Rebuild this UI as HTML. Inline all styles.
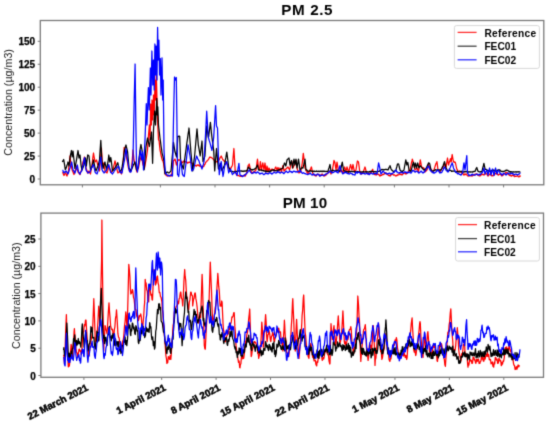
<!DOCTYPE html>
<html><head><meta charset="utf-8"><title>PM 2.5 and PM 10</title>
<style>html,body{margin:0;padding:0;background:#fff;width:550px;height:429px;overflow:hidden}svg{display:block}</style>
</head><body>
<svg width="550" height="429" viewBox="0 0 550 429" font-family="'Liberation Sans', Arial, sans-serif"><defs><filter id="bl" x="0" y="0" width="550" height="429" filterUnits="userSpaceOnUse" color-interpolation-filters="sRGB"><feConvolveMatrix order="3" kernelMatrix="0.0192 0.1001 0.0192 0.1001 0.5228 0.1001 0.0192 0.1001 0.0192" divisor="1" edgeMode="duplicate"/></filter></defs><rect width="550" height="429" fill="#fff"/><g filter="url(#bl)"><rect width="550" height="429" fill="#fff"/><text x="307.20" y="15.2" text-anchor="middle" font-size="15.2" font-weight="bold" letter-spacing="0.6">PM 2.5</text>
<line x1="37.70" y1="179.00" x2="40.30" y2="179.00" stroke="#7a7a7a" stroke-width="1"/>
<text x="35.10" y="183.10" text-anchor="end" font-size="10.0" font-weight="bold" stroke="#000" stroke-width="0.25">0</text>
<line x1="37.70" y1="156.05" x2="40.30" y2="156.05" stroke="#7a7a7a" stroke-width="1"/>
<text x="35.10" y="160.15" text-anchor="end" font-size="10.0" font-weight="bold" stroke="#000" stroke-width="0.25">25</text>
<line x1="37.70" y1="133.10" x2="40.30" y2="133.10" stroke="#7a7a7a" stroke-width="1"/>
<text x="35.10" y="137.20" text-anchor="end" font-size="10.0" font-weight="bold" stroke="#000" stroke-width="0.25">50</text>
<line x1="37.70" y1="110.15" x2="40.30" y2="110.15" stroke="#7a7a7a" stroke-width="1"/>
<text x="35.10" y="114.25" text-anchor="end" font-size="10.0" font-weight="bold" stroke="#000" stroke-width="0.25">75</text>
<line x1="37.70" y1="87.20" x2="40.30" y2="87.20" stroke="#7a7a7a" stroke-width="1"/>
<text x="35.10" y="91.30" text-anchor="end" font-size="10.0" font-weight="bold" stroke="#000" stroke-width="0.25">100</text>
<line x1="37.70" y1="64.25" x2="40.30" y2="64.25" stroke="#7a7a7a" stroke-width="1"/>
<text x="35.10" y="68.35" text-anchor="end" font-size="10.0" font-weight="bold" stroke="#000" stroke-width="0.25">125</text>
<line x1="37.70" y1="41.30" x2="40.30" y2="41.30" stroke="#7a7a7a" stroke-width="1"/>
<text x="35.10" y="45.40" text-anchor="end" font-size="10.0" font-weight="bold" stroke="#000" stroke-width="0.25">150</text>
<line x1="82.40" y1="184.80" x2="82.40" y2="187.40" stroke="#7a7a7a" stroke-width="1"/>
<line x1="160.40" y1="184.80" x2="160.40" y2="187.40" stroke="#7a7a7a" stroke-width="1"/>
<line x1="215.00" y1="184.80" x2="215.00" y2="187.40" stroke="#7a7a7a" stroke-width="1"/>
<line x1="269.60" y1="184.80" x2="269.60" y2="187.40" stroke="#7a7a7a" stroke-width="1"/>
<line x1="324.20" y1="184.80" x2="324.20" y2="187.40" stroke="#7a7a7a" stroke-width="1"/>
<line x1="394.40" y1="184.80" x2="394.40" y2="187.40" stroke="#7a7a7a" stroke-width="1"/>
<line x1="449.00" y1="184.80" x2="449.00" y2="187.40" stroke="#7a7a7a" stroke-width="1"/>
<line x1="503.60" y1="184.80" x2="503.60" y2="187.40" stroke="#7a7a7a" stroke-width="1"/>
<text x="7.7" y="102.4" transform="rotate(-90 7.7 102.4)" text-anchor="middle" dominant-baseline="central" font-size="10.7" fill="#222">Concentration (µg/m3)</text>
<polyline points="62.5,172.0 62.8,172.3 63.4,174.3 64.0,175.5 64.6,174.0 65.2,173.6 65.5,173.0 65.8,173.2 66.4,175.1 67.0,176.0 67.6,173.4 68.2,172.1 68.5,171.0 68.8,167.6 69.4,162.2 70.0,156.0 70.6,161.0 71.0,165.0 71.8,168.5 72.5,171.0 73.0,171.8 73.6,173.8 74.0,174.5 74.8,171.5 75.5,170.0 76.0,168.3 76.5,166.0 77.2,168.5 78.0,172.0 78.4,172.7 79.0,172.9 79.6,174.1 80.0,174.5 80.8,171.7 81.5,170.0 82.0,167.6 82.6,163.8 83.0,162.0 83.8,159.6 84.5,157.0 85.0,160.1 85.6,165.3 86.0,168.0 86.8,170.2 87.5,173.0 88.0,172.4 88.6,171.4 89.0,171.0 89.8,173.0 90.5,174.0 91.0,170.7 91.6,167.5 92.0,165.0 92.8,158.0 93.5,153.0 94.0,156.3 94.6,159.4 95.0,162.0 95.8,161.1 96.5,160.0 97.0,161.8 97.6,164.5 98.0,166.0 98.8,168.5 99.5,171.0 100.0,165.2 100.6,157.4 101.4,148.0 101.8,154.4 102.5,165.0 103.0,164.0 103.7,163.0 104.2,166.2 105.0,171.0 105.4,171.3 106.0,172.3 106.6,172.1 107.0,173.0 107.8,170.4 108.4,167.9 109.0,166.0 109.6,168.1 110.2,169.7 111.0,172.5 111.4,172.2 112.0,171.1 112.6,170.6 113.0,170.0 113.8,166.1 114.4,163.7 115.0,160.8 115.6,163.2 116.2,166.8 116.5,168.0 116.8,168.7 117.4,171.2 118.0,173.0 118.6,172.0 119.2,172.1 120.0,171.0 120.4,171.5 121.0,173.1 121.5,174.0 122.2,169.4 123.0,165.0 123.4,159.3 124.2,147.3 124.6,148.3 125.2,151.0 125.5,152.0 125.8,153.1 126.4,156.9 127.0,160.0 127.6,162.8 128.2,166.6 128.5,168.0 128.8,168.5 129.4,170.7 130.0,172.0 130.6,170.7 131.2,170.5 131.5,170.0 131.8,165.6 132.4,158.2 133.0,150.0 133.6,155.9 134.0,160.0 134.8,163.3 135.5,166.0 136.0,167.6 136.6,170.7 137.0,172.0 137.8,169.5 138.5,168.0 139.0,165.5 139.6,161.8 140.0,160.0 140.8,157.5 141.5,155.0 142.0,157.8 142.6,162.7 143.0,165.0 143.8,166.2 144.5,168.0 145.0,165.4 145.6,161.8 146.0,160.0 146.8,155.0 147.5,150.0 148.0,142.2 148.5,135.0 149.4,125.0 150.0,140.0 150.4,119.5 150.7,104.0 151.0,112.8 151.4,125.0 152.0,100.0 152.8,120.0 153.5,95.0 154.2,115.0 154.6,97.8 155.0,80.0 155.7,100.0 156.3,73.0 157.0,100.0 157.8,125.6 158.2,133.4 158.5,140.0 159.0,140.0 159.4,144.1 160.0,150.0 160.6,152.6 161.0,155.0 162.0,159.0 162.4,160.4 163.0,161.1 163.5,163.0 164.2,168.3 165.0,173.8 165.4,173.9 166.0,175.2 166.6,175.0 167.0,176.0 167.8,176.1 168.4,175.2 169.0,175.5 169.6,175.9 170.2,175.4 170.8,176.2 171.4,176.0 172.0,172.3 172.5,170.0 173.2,164.0 173.5,161.0 173.8,160.4 174.4,159.9 175.0,159.0 175.6,161.2 176.2,164.0 176.5,165.0 176.8,163.6 177.4,162.1 178.0,160.0 178.6,159.7 179.2,160.2 180.0,159.7 180.4,160.2 181.0,161.7 181.6,161.8 182.0,163.0 182.8,162.4 183.4,161.0 184.0,161.0 184.6,161.6 185.2,161.5 186.0,162.0 186.4,162.5 187.0,162.2 187.6,163.1 188.0,163.0 188.8,162.1 189.4,162.4 190.0,162.0 190.6,162.3 191.2,162.9 192.0,163.4 192.4,163.2 193.0,164.5 193.6,164.5 194.0,165.0 194.8,165.5 195.4,165.4 196.0,166.0 196.6,166.0 197.2,164.9 198.0,165.0 198.4,165.5 199.0,164.9 199.6,166.1 200.0,166.0 200.8,166.0 201.4,166.9 202.0,167.2 202.6,166.7 203.2,166.8 204.0,166.0 204.4,164.8 205.0,164.2 205.6,162.6 206.0,162.0 206.8,161.4 207.4,160.3 208.0,160.0 208.6,159.3 209.2,157.9 210.0,157.0 210.4,157.3 211.0,157.3 211.6,157.9 212.0,158.0 212.8,158.6 213.4,159.5 214.0,160.0 214.6,160.3 215.2,161.3 215.6,161.6 216.4,161.3 217.0,162.0 217.6,161.6 218.2,160.5 219.0,160.0 219.4,159.5 220.0,157.9 220.6,157.2 221.2,156.0 221.8,157.2 222.4,158.8 223.0,160.0 223.6,160.2 224.2,161.1 225.0,161.6 225.4,161.8 226.0,163.1 226.6,163.4 227.0,164.0 227.8,166.3 228.5,168.0 229.0,167.9 229.6,168.7 230.2,168.4 230.5,169.0 230.8,168.5 231.4,167.1 232.0,166.1 232.5,165.0 233.2,156.2 233.9,148.5 234.4,157.3 235.2,171.0 235.6,171.9 236.2,174.1 236.5,174.6 236.8,174.4 237.4,175.5 238.0,175.5 238.6,175.4 239.2,176.1 240.0,176.0 240.4,176.0 241.0,176.4 241.6,175.9 242.0,176.5 242.8,176.3 243.4,175.3 244.0,175.5 244.6,175.9 245.4,176.0 245.8,174.5 246.4,173.6 247.0,172.0 247.6,168.2 248.2,165.3 248.8,164.6 249.2,164.0 250.0,167.5 250.5,170.0 251.2,171.7 252.0,173.0 252.4,172.5 253.0,172.8 253.6,171.9 254.0,172.0 254.8,171.5 255.4,170.0 256.0,170.0 256.6,165.9 257.2,161.1 257.5,159.2 257.8,162.1 258.5,168.0 259.0,168.4 259.5,170.0 260.4,161.6 260.8,165.0 261.5,170.0 262.0,166.9 262.8,162.8 263.2,165.4 264.0,170.0 264.4,167.0 265.0,163.0 265.6,168.7 266.0,172.0 267.0,166.0 267.4,168.2 268.0,172.0 268.6,169.7 269.0,168.0 269.8,169.5 270.5,171.0 271.0,170.4 271.6,169.2 272.0,169.0 272.8,170.0 273.4,170.2 274.0,171.0 274.6,169.9 275.2,167.8 275.8,167.0 276.4,168.6 277.0,170.0 277.6,168.3 278.0,167.5 279.0,171.0 279.4,170.0 280.0,168.0 280.6,169.0 281.2,171.5 281.5,172.0 281.8,170.3 282.4,168.0 282.9,165.7 283.6,168.5 284.0,171.0 284.8,170.6 285.4,169.0 286.0,169.0 286.6,168.6 287.2,167.5 288.0,167.0 288.4,168.0 289.0,168.5 289.5,170.0 290.2,167.6 290.5,166.0 290.8,164.4 291.4,162.5 291.7,161.0 292.0,162.3 292.6,166.1 293.0,168.0 293.8,166.0 294.5,165.0 295.0,163.6 295.6,161.3 296.0,160.4 296.8,165.9 297.5,170.0 298.0,170.8 298.6,172.3 299.0,173.0 299.8,172.2 300.5,172.0 301.0,170.0 301.6,166.6 302.0,165.0 302.8,158.1 303.3,153.3 304.0,158.8 304.3,162.0 304.6,164.9 305.0,168.0 305.8,169.3 306.4,171.2 306.8,172.0 307.6,173.0 308.0,174.0 308.8,172.7 309.5,171.0 310.0,169.8 310.6,169.0 311.2,167.1 311.5,167.0 311.8,168.8 312.4,171.2 312.7,173.0 313.0,173.6 313.6,174.2 314.0,175.0 314.8,175.6 315.4,175.3 316.0,176.0 316.6,175.5 317.2,174.3 318.0,174.0 318.4,174.7 319.0,174.6 319.6,175.9 320.0,176.0 320.8,174.9 321.4,174.9 322.0,174.0 322.6,174.3 323.2,175.3 324.0,176.0 324.4,175.6 325.0,175.8 325.6,174.6 326.0,175.0 326.8,174.3 327.4,173.1 328.0,173.0 328.6,172.5 329.2,171.5 330.0,171.0 330.4,172.4 331.0,174.0 331.6,171.8 332.2,171.0 332.5,170.0 332.8,167.7 333.4,164.4 334.0,160.4 334.6,161.7 335.0,163.0 336.0,170.0 336.4,167.0 337.0,162.2 337.6,165.6 338.2,169.3 338.5,171.0 338.8,170.8 339.4,171.9 340.0,172.0 340.6,170.8 341.2,170.5 341.5,170.0 341.8,170.0 342.4,171.9 343.0,173.0 343.6,170.4 344.2,168.7 344.6,167.0 345.4,169.1 346.0,171.0 346.6,168.9 347.0,166.9 347.8,169.7 348.5,173.0 349.0,171.0 349.6,168.1 350.2,166.1 350.5,164.5 350.8,165.3 351.4,168.0 352.0,170.0 352.6,166.4 353.0,164.5 353.8,168.7 354.5,172.0 355.0,170.9 355.6,170.7 356.0,170.0 356.8,164.5 357.4,161.0 358.0,161.6 358.5,162.0 359.2,167.2 359.5,170.0 359.8,171.0 360.4,172.1 361.0,174.0 361.6,174.0 362.2,172.8 363.0,173.0 363.4,172.1 364.0,169.7 364.6,168.3 365.0,167.0 365.8,169.8 366.5,173.0 367.0,173.5 367.6,173.5 368.0,174.0 368.8,173.8 369.4,173.1 370.0,173.0 370.6,172.9 371.2,171.7 371.5,172.0 371.8,171.4 372.4,169.6 372.7,169.3 373.0,170.5 373.6,172.3 374.0,174.0 374.8,174.7 375.4,174.1 376.0,175.0 376.6,174.9 377.2,173.9 378.0,174.0 378.4,174.6 379.0,174.4 379.6,175.7 380.0,176.0 380.8,175.2 381.4,175.4 382.0,175.0 382.6,174.3 383.2,174.7 384.0,174.0 384.4,173.2 385.0,173.8 385.6,172.8 386.0,173.0 386.8,174.0 387.4,174.0 388.0,175.0 388.6,175.6 389.2,175.2 390.0,176.0 390.4,175.9 391.0,174.5 391.6,174.7 392.0,174.0 392.8,174.0 393.4,175.0 394.0,175.0 394.6,174.8 395.2,175.8 396.0,176.0 396.4,175.3 397.0,175.7 397.6,174.7 398.0,175.0 398.8,174.9 399.4,173.7 400.0,174.0 400.6,174.6 401.2,174.1 402.0,175.0 402.4,174.8 403.0,173.7 403.6,173.7 404.0,173.0 404.8,172.9 405.4,173.9 406.0,174.0 406.6,173.2 407.2,173.1 408.0,172.0 408.4,171.0 409.0,171.1 409.6,170.2 410.0,170.0 410.8,166.3 411.4,163.0 412.0,160.9 412.3,159.2 412.6,159.9 413.2,162.3 413.5,163.0 413.8,164.3 414.4,167.3 415.0,170.0 415.6,169.0 416.2,169.1 417.0,168.0 417.4,168.7 418.0,170.9 418.5,172.0 419.2,167.0 419.8,163.4 420.3,159.8 421.0,163.6 421.5,167.0 422.2,167.4 422.8,167.3 423.4,168.0 423.9,168.0 424.6,170.1 425.0,172.0 425.8,171.3 426.4,170.4 427.0,170.0 427.6,168.3 428.2,165.5 428.6,164.6 429.4,166.7 430.0,168.0 430.6,168.7 431.2,170.7 432.0,172.0 432.4,171.1 433.0,171.2 433.6,170.0 434.0,170.0 434.8,167.4 435.5,165.0 436.0,163.5 436.6,162.5 436.9,161.6 437.2,163.6 438.0,170.0 438.4,170.6 439.0,170.6 439.8,172.0 440.2,171.5 441.0,170.0 441.4,169.2 442.0,168.7 442.6,167.4 443.0,167.0 443.8,165.5 444.5,164.0 445.0,164.8 445.6,167.2 446.0,168.0 446.8,162.5 447.5,158.0 448.0,161.7 448.5,165.0 449.2,162.6 449.8,161.0 450.5,158.6 451.2,162.0 451.6,158.4 452.2,154.5 452.8,158.3 453.5,162.0 454.0,161.7 454.6,162.4 455.2,162.2 455.8,164.5 456.5,168.0 457.0,169.4 457.6,170.6 458.0,172.0 458.8,171.9 459.4,170.8 460.0,171.0 460.6,171.9 461.2,171.6 462.0,173.0 462.4,173.6 463.0,173.5 463.6,174.9 464.0,175.0 464.8,174.0 465.4,174.6 466.0,174.0 466.6,174.1 467.2,175.4 468.0,176.0 468.4,175.6 469.0,176.0 469.6,175.4 470.0,175.5 470.8,175.9 471.4,175.6 472.0,176.0 472.6,175.8 473.2,175.2 474.0,175.0 474.4,175.1 475.0,174.2 475.6,174.3 476.0,174.0 476.8,173.9 477.4,175.0 478.0,175.0 478.6,175.1 479.2,175.9 480.0,176.0 480.4,175.4 481.0,175.1 481.6,174.2 482.0,174.0 482.8,174.7 483.4,174.3 484.0,175.0 484.6,174.7 485.2,173.4 486.0,173.0 486.4,173.9 487.0,174.0 487.6,175.6 488.0,176.0 488.8,175.0 489.4,174.7 490.0,174.0 490.6,174.1 491.2,175.5 492.0,176.0 492.4,175.4 493.0,175.8 493.6,174.7 494.0,175.0 494.8,174.4 495.4,173.4 496.0,173.0 496.6,173.8 497.2,173.6 498.0,175.0 498.4,175.1 499.0,174.4 499.6,174.3 500.0,174.0 500.8,174.5 501.4,175.7 502.0,176.0 502.6,174.9 503.2,175.1 504.0,174.0 504.4,173.6 505.0,173.6 505.6,172.7 506.2,173.1 507.0,172.5 507.4,172.7 508.0,174.1 508.6,174.4 509.0,175.0 509.8,175.6 510.4,175.2 511.0,176.0 511.6,176.1 512.2,175.2 513.0,175.5 513.4,175.8 514.0,175.6 514.6,176.7 515.0,176.5 515.8,176.1 516.4,176.3 517.0,176.0 517.6,175.7 518.2,176.7 519.0,177.0 519.4,176.1 520.0,176.3 520.5,175.5" fill="none" stroke="#ff0000" stroke-width="1.25" stroke-linejoin="round"/>
<polyline points="62.4,162.0 62.7,161.2 63.3,160.5 63.7,159.5 64.5,164.3 65.3,169.7 65.7,169.0 66.5,167.0 66.9,165.5 67.5,163.9 68.0,162.0 68.7,164.5 69.0,166.0 69.3,164.0 69.9,159.1 70.5,155.0 71.1,152.2 71.4,150.5 71.7,152.8 72.2,157.0 73.0,151.0 73.5,155.6 74.0,160.0 74.9,168.5 75.3,166.1 75.9,163.3 76.5,160.0 77.1,155.9 77.7,152.5 78.0,150.5 78.3,152.4 79.0,158.0 79.5,156.5 80.0,155.0 80.7,161.7 81.0,165.0 81.3,166.6 82.0,170.0 82.5,168.7 83.1,167.4 83.7,165.7 84.0,165.0 84.3,163.7 84.9,160.6 85.5,158.0 86.1,163.4 86.4,166.0 86.7,163.3 87.3,158.4 87.7,155.0 88.5,155.3 89.0,156.0 89.7,162.6 90.5,170.0 90.9,169.1 91.5,168.1 92.0,167.0 92.7,163.4 93.5,160.0 93.9,162.3 94.5,165.0 95.0,168.0 95.7,170.3 96.0,171.0 96.3,170.0 96.9,168.9 97.5,167.0 98.0,166.0 98.7,163.3 99.5,160.0 99.9,153.7 100.5,145.1 100.8,140.3 101.1,146.0 101.8,160.0 102.3,163.7 103.0,168.5 103.5,166.5 104.1,165.1 104.7,162.7 105.0,162.0 105.3,163.7 105.9,166.7 106.5,170.0 107.1,166.9 107.7,163.2 108.0,162.0 108.3,159.5 108.8,155.0 109.5,159.6 109.8,162.0 110.1,160.7 110.8,157.5 111.3,161.2 111.9,166.3 112.5,171.0 113.1,169.9 113.7,169.8 114.3,168.8 115.0,168.0 115.5,167.2 116.1,165.8 116.7,165.0 117.3,163.5 117.8,162.7 118.5,166.2 119.1,168.7 119.5,171.0 120.3,170.8 120.9,170.2 121.5,170.0 122.1,166.9 122.7,163.3 123.0,162.0 123.3,159.7 123.9,154.5 124.5,150.0 125.1,148.1 125.7,145.8 126.0,145.0 126.3,146.4 126.9,148.8 127.6,152.0 128.1,157.8 128.7,164.3 129.0,168.0 129.3,168.6 129.9,169.1 130.5,170.3 131.0,171.0 131.7,169.0 132.3,167.8 133.0,166.0 133.5,164.6 134.1,163.9 134.7,162.3 135.0,162.0 135.3,163.7 135.9,166.5 136.5,170.0 137.1,169.3 137.7,168.2 138.0,168.0 138.3,165.5 138.9,159.6 139.5,154.5 140.0,150.0 140.7,145.8 141.0,144.5 141.3,146.4 141.9,149.5 142.5,153.0 143.1,159.0 143.7,164.4 144.2,169.6 144.9,160.7 145.5,152.6 146.0,146.5 146.7,142.6 147.5,138.0 147.9,139.6 148.5,142.6 149.1,144.8 149.4,146.5 149.7,144.5 150.3,140.1 150.9,136.4 151.5,132.0 152.1,148.9 152.6,163.3 153.5,130.0 153.9,123.8 154.7,111.0 155.1,117.7 155.5,125.0 156.3,108.7 156.8,98.4 157.3,115.0 157.8,106.8 158.1,114.3 158.5,125.0 159.3,132.1 160.0,138.0 160.5,141.5 161.1,146.3 161.7,150.2 162.0,152.8 162.3,154.1 162.9,156.1 163.5,159.1 164.0,161.0 164.7,169.6 165.0,173.8 165.3,173.7 165.9,172.6 166.5,172.6 167.0,172.0 167.7,172.2 168.3,172.7 169.0,173.0 169.5,172.3 170.1,172.0 170.7,171.1 171.0,171.0 171.3,167.7 171.9,160.5 172.5,154.0 173.1,146.7 173.5,142.4 174.3,147.6 175.0,152.0 175.5,153.3 176.1,155.6 176.6,157.0 177.3,144.7 177.8,136.4 178.5,136.6 179.1,136.1 179.7,136.4 180.3,153.2 180.6,161.6 180.9,162.1 181.5,164.1 182.1,165.3 182.7,167.3 183.4,169.0 183.9,165.1 184.5,160.9 185.1,156.1 185.7,151.9 186.2,148.0 186.9,142.7 187.5,138.8 188.1,134.2 188.7,130.4 189.0,128.0 189.3,131.7 189.9,139.5 190.5,146.6 190.9,152.0 191.7,160.5 192.3,166.4 192.7,170.9 193.5,164.8 194.1,159.6 194.6,156.0 195.3,148.2 195.9,141.1 196.5,134.6 197.0,128.9 197.7,137.1 198.3,144.8 198.9,148.4 199.5,151.6 200.2,156.0 200.7,151.9 201.3,146.5 202.0,141.0 202.5,151.4 203.0,161.6 203.7,159.4 204.3,157.9 204.9,156.0 205.5,145.9 206.1,136.1 206.7,126.0 207.3,129.4 207.9,133.3 208.6,137.3 209.1,132.9 209.7,128.3 210.4,122.4 210.9,127.2 211.5,133.5 211.9,137.3 212.7,142.8 213.3,147.6 213.7,150.4 214.7,170.9 215.1,165.6 215.7,158.5 216.5,148.5 216.9,152.7 217.5,159.5 218.1,165.6 218.4,169.0 218.7,168.2 219.3,166.2 219.9,164.7 220.3,163.4 221.1,166.8 221.7,169.7 222.0,170.9 222.3,169.8 222.9,168.8 223.5,167.2 224.1,166.0 224.5,165.0 225.3,160.4 225.9,157.4 226.5,153.7 226.8,152.2 227.1,154.6 227.7,159.1 228.3,164.1 228.7,167.2 229.5,168.8 230.1,170.5 230.5,171.3 231.3,171.3 231.9,171.7 232.5,171.4 233.0,171.9 233.7,171.9 234.3,171.4 234.9,171.7 235.5,171.4 236.0,171.4 236.7,171.4 237.3,171.0 237.9,171.2 238.5,170.9 239.1,171.2 239.7,170.9 240.3,170.8 240.9,171.2 241.5,170.8 242.1,171.4 242.7,171.1 243.0,171.4 243.3,171.5 243.9,171.0 244.5,171.3 245.1,170.8 245.7,171.2 246.3,170.6 246.8,170.9 247.5,169.6 248.1,167.9 248.6,167.0 249.3,168.4 249.8,169.0 250.5,168.9 251.1,169.7 251.7,169.7 252.0,170.0 252.3,170.1 252.9,169.4 253.5,169.7 254.0,169.5 254.7,168.8 255.3,168.7 256.0,168.0 256.5,166.9 257.1,165.9 257.5,165.0 258.5,170.0 258.9,169.9 259.5,170.1 260.1,169.8 260.7,170.1 261.0,170.0 261.3,169.9 261.9,170.5 262.5,170.2 263.1,170.8 263.7,170.6 264.0,170.9 264.3,171.2 264.9,170.8 265.5,171.3 266.1,171.1 266.7,171.5 267.0,171.4 267.3,171.2 267.9,171.6 268.5,171.3 269.1,171.6 269.7,171.1 270.0,171.4 270.3,171.4 270.9,170.6 271.5,170.9 272.1,170.1 272.7,170.2 273.0,170.0 273.3,169.7 273.9,170.4 274.5,170.3 275.1,170.7 275.7,170.7 276.0,170.9 276.3,170.9 276.9,170.5 277.5,170.5 278.1,169.9 278.7,170.2 279.0,170.0 279.3,169.7 279.9,169.7 280.5,169.1 281.1,169.1 281.7,168.5 282.3,168.4 282.9,168.0 283.5,166.0 284.1,164.3 284.5,163.0 285.3,164.6 285.8,166.0 286.5,162.6 287.0,160.0 287.7,159.1 288.3,158.8 289.0,158.0 289.5,161.3 290.0,165.0 290.7,163.0 291.5,160.5 291.9,163.4 292.5,168.0 293.1,164.6 293.7,160.7 294.0,159.2 294.3,161.0 295.0,165.0 295.5,161.9 296.0,159.2 296.7,165.5 297.0,168.0 297.3,166.0 297.9,162.8 298.5,159.2 299.1,163.3 299.7,167.9 300.0,170.0 300.3,169.4 300.9,169.0 301.5,168.0 302.1,167.7 302.7,168.2 303.0,168.0 303.3,166.4 303.9,164.2 304.5,161.3 305.0,159.2 305.7,167.0 306.0,170.0 306.3,169.7 306.8,169.9 307.5,171.0 308.0,171.4 308.7,171.1 309.3,171.2 310.0,170.9 310.5,170.7 311.1,171.3 311.7,170.9 312.3,171.5 312.7,171.4 313.5,171.1 314.1,171.6 314.7,171.1 315.3,171.5 316.0,171.4 316.5,171.0 317.1,171.5 317.7,171.3 318.3,171.5 318.9,171.1 319.5,171.6 320.0,171.4 320.7,171.1 321.3,171.5 321.9,171.1 322.5,171.6 323.1,171.1 323.7,171.5 324.0,171.4 324.3,171.1 324.9,171.5 325.5,171.3 326.1,171.6 326.7,171.3 327.3,171.4 328.0,171.4 328.5,169.3 329.1,167.7 329.7,165.4 330.0,164.5 330.3,166.7 331.0,171.4 331.5,170.9 332.1,170.8 332.7,170.0 333.0,170.0 333.3,170.4 333.9,170.5 334.5,171.2 335.0,171.4 335.7,170.6 336.3,170.6 337.0,170.0 337.5,170.0 338.1,171.0 338.7,170.9 339.0,171.4 339.3,171.3 339.9,170.2 340.5,170.0 341.1,167.6 341.7,164.6 342.3,162.2 342.9,166.2 343.5,170.0 344.1,170.4 344.7,171.2 345.0,171.4 345.3,171.1 345.9,171.8 346.5,171.4 347.1,171.9 347.7,171.6 348.0,171.9 348.3,171.9 348.9,171.7 349.5,171.8 350.1,171.3 350.7,171.8 351.3,171.3 352.0,171.4 352.5,171.7 353.1,171.4 353.7,171.7 354.3,171.5 354.9,172.0 355.5,171.6 356.0,171.9 356.7,172.0 357.3,171.5 357.9,172.2 358.5,171.6 359.1,172.2 359.7,171.9 360.0,172.0 360.3,172.1 360.9,171.8 361.5,172.1 362.1,171.8 362.7,172.0 363.3,171.6 364.0,171.9 364.5,172.1 365.1,171.7 365.7,172.0 366.3,171.6 366.9,172.2 367.5,171.7 368.0,172.0 368.7,172.0 369.3,171.5 369.9,171.8 370.5,171.3 371.1,171.7 371.7,171.1 372.0,171.4 372.3,171.6 372.9,171.4 373.5,171.8 374.1,171.5 374.7,171.8 375.3,171.5 376.0,171.9 376.5,172.0 377.1,171.4 377.7,171.8 378.3,171.4 379.0,171.4 379.5,171.2 380.1,170.5 380.7,170.3 381.3,169.7 382.0,169.3 382.5,169.6 383.1,169.5 383.7,170.0 384.0,170.0 384.3,169.5 384.9,169.7 385.7,169.3 386.1,169.2 386.7,169.7 387.3,169.5 388.0,170.0 388.5,169.1 389.1,167.3 389.7,166.5 390.0,165.7 390.3,166.3 390.9,168.5 391.5,170.0 392.1,170.2 392.7,171.0 393.3,171.2 394.0,171.9 394.5,171.6 395.1,170.6 395.7,170.4 396.0,170.0 396.3,168.6 396.9,166.5 397.5,164.0 398.1,163.8 398.7,164.0 399.3,167.0 400.0,170.0 400.5,170.4 401.1,171.2 401.7,171.2 402.0,171.9 402.3,171.7 402.9,170.7 403.5,170.7 404.0,170.0 404.7,165.9 405.3,162.7 405.8,159.8 406.5,163.0 406.8,165.0 407.1,164.4 407.8,162.4 408.3,165.3 409.0,170.0 409.5,170.5 410.1,170.7 410.7,171.4 411.0,171.4 411.3,169.9 411.9,167.8 412.3,166.0 413.1,163.2 413.5,162.4 414.5,168.0 414.9,165.6 415.3,163.0 416.1,166.0 416.5,168.0 417.3,164.4 417.6,163.0 417.9,163.7 418.5,166.3 419.0,168.0 419.7,166.7 420.3,165.7 420.9,166.7 421.5,167.1 422.0,168.0 422.7,168.9 423.3,169.1 424.0,170.0 424.5,169.8 425.1,169.1 425.7,169.3 426.0,169.0 426.3,167.9 426.9,166.9 427.5,165.1 428.1,164.2 428.6,162.8 429.3,163.2 429.8,164.0 430.5,167.6 431.0,170.0 431.7,170.2 432.3,171.0 433.0,171.4 433.5,170.9 434.1,170.7 434.7,170.1 435.0,170.0 435.3,170.1 435.9,169.6 436.5,170.2 437.0,170.0 437.7,169.7 438.3,170.0 438.9,169.8 439.5,170.1 439.8,169.9 440.1,169.8 440.7,170.2 441.0,170.0 441.3,169.3 441.9,168.3 442.5,166.8 443.0,166.0 443.7,164.0 444.5,161.6 444.9,163.1 445.5,166.0 446.0,168.0 446.7,169.0 447.3,170.3 448.0,171.4 448.5,170.9 449.1,170.7 449.7,170.0 450.0,170.0 450.3,170.4 450.9,170.4 451.5,171.3 452.0,171.4 452.7,171.0 453.3,171.2 454.0,170.9 454.5,171.0 455.1,171.6 455.7,171.7 456.0,172.0 456.3,172.0 456.9,171.3 457.5,171.8 458.0,171.4 458.7,171.5 459.3,171.9 460.0,171.9 460.5,171.5 461.1,171.8 461.7,171.2 462.0,171.4 462.3,171.7 462.9,171.5 463.5,172.0 464.0,172.0 464.7,171.6 465.3,171.8 466.0,171.4 466.5,171.4 467.1,171.9 467.7,171.6 468.0,172.0 468.3,172.2 468.9,171.7 469.5,172.1 470.1,171.7 470.7,172.2 471.3,171.9 472.0,172.0 472.5,172.0 473.1,171.4 473.7,171.8 474.3,171.3 475.0,171.4 475.5,170.4 476.1,168.6 476.8,167.5 477.3,169.3 478.0,171.4 478.5,171.3 479.1,171.9 479.7,171.8 480.0,172.0 480.3,172.1 480.9,171.6 481.5,171.7 482.0,171.4 482.7,168.1 483.3,166.0 483.9,163.4 484.5,166.2 485.0,169.0 485.7,169.5 486.3,169.4 487.0,170.0 487.5,170.4 488.1,170.3 488.7,171.0 489.3,171.0 490.0,171.4 490.5,171.3 491.1,170.7 491.7,170.8 492.3,170.2 493.0,170.0 493.5,170.3 494.1,170.1 494.7,171.0 495.3,170.7 496.0,171.4 496.5,171.3 497.1,170.4 497.7,170.3 498.0,170.0 498.3,169.8 498.9,170.1 499.5,169.8 499.8,169.9 500.1,170.4 500.7,170.7 501.0,171.4 501.3,171.5 501.9,171.3 502.5,171.6 503.1,171.3 503.7,171.5 504.0,171.4 504.3,171.2 504.9,171.2 505.5,170.3 506.1,170.6 506.7,170.0 507.0,170.0 507.3,170.4 507.9,170.4 508.5,171.1 509.1,171.1 509.7,172.0 510.0,172.0 510.3,171.6 510.9,172.1 511.5,171.7 512.1,172.2 512.7,171.8 513.3,172.1 513.9,171.7 514.5,172.1 515.0,172.0 515.7,171.7 516.3,172.2 516.9,171.7 517.5,172.1 518.1,171.7 518.7,172.1 519.3,171.7 519.9,172.1 520.5,172.0" fill="none" stroke="#000000" stroke-width="1.25" stroke-linejoin="round"/>
<polyline points="62.5,170.0 62.8,170.2 63.4,172.0 64.0,173.0 64.6,171.9 65.2,172.1 66.0,171.0 66.4,171.1 67.0,172.7 67.6,172.8 68.0,174.0 68.8,171.8 69.4,169.5 70.0,168.0 70.6,166.0 71.2,163.4 71.7,162.0 72.4,166.4 73.0,170.0 73.6,170.6 74.2,172.0 75.0,173.0 75.4,171.2 76.0,170.0 76.6,167.5 77.4,165.0 77.8,167.6 78.5,172.0 79.0,172.4 79.6,173.7 80.0,174.0 80.8,171.9 81.4,171.5 82.0,170.0 82.6,166.5 83.2,164.3 83.8,160.6 84.5,157.6 85.0,161.9 85.6,166.4 86.0,170.0 86.8,171.3 87.4,171.7 88.0,173.0 88.6,172.9 89.2,172.0 90.0,172.0 90.4,171.1 91.0,169.0 91.5,168.0 92.2,166.9 92.8,165.3 93.5,164.6 94.0,167.3 94.6,169.5 95.0,172.0 95.8,173.1 96.4,173.1 97.0,174.0 97.6,172.3 98.2,170.1 99.0,168.0 99.4,165.9 100.0,161.4 100.8,157.0 101.2,161.5 102.0,170.0 102.4,170.1 103.0,171.7 103.6,171.9 104.0,173.0 104.8,172.3 105.4,171.1 106.0,171.0 106.6,170.0 107.2,167.9 107.8,167.1 108.4,165.3 108.8,164.6 109.6,168.2 110.2,170.5 110.5,172.0 110.8,172.4 111.4,172.7 112.0,173.6 112.5,174.0 113.2,172.7 113.8,172.1 114.4,170.6 115.0,170.0 115.6,169.4 116.2,168.1 116.8,168.1 117.4,166.9 118.0,166.9 118.5,166.0 119.2,168.3 120.0,172.0 120.4,172.5 121.0,172.1 121.6,173.1 122.0,173.0 122.8,168.7 123.4,166.0 124.0,162.3 124.5,160.0 125.2,154.9 126.0,148.8 126.4,151.3 127.0,156.5 127.5,160.0 128.2,163.7 128.8,167.6 129.5,171.5 130.0,171.4 130.6,172.2 131.0,172.0 131.8,166.8 132.4,163.7 133.0,160.0 133.6,129.6 134.2,100.0 134.8,76.1 135.1,64.0 135.4,87.8 135.8,120.0 136.5,165.0 137.2,170.1 137.5,172.0 137.8,169.0 138.4,165.1 139.0,160.0 139.6,155.6 140.2,152.3 140.5,150.0 140.8,152.8 141.5,160.0 142.0,156.3 142.5,152.0 143.2,164.0 143.5,170.0 143.8,164.1 144.4,151.4 145.0,140.0 145.6,123.6 146.3,103.7 147.0,125.0 147.4,114.0 148.0,98.6 148.4,87.6 149.2,110.0 149.8,88.4 150.4,68.0 151.0,95.0 151.6,65.8 151.9,51.0 152.2,62.0 152.8,85.0 153.5,60.0 154.2,90.0 154.6,64.0 154.9,44.0 155.2,56.8 155.6,75.0 156.2,46.0 157.0,80.0 157.6,27.4 158.2,60.0 158.9,40.2 159.6,75.0 160.0,65.7 160.3,58.5 160.6,73.7 161.0,95.0 162.0,57.8 162.4,82.2 162.7,100.0 163.2,80.0 163.6,114.5 164.0,150.0 164.8,165.0 165.5,173.0 166.0,173.9 166.6,173.9 167.0,175.0 167.8,175.6 168.4,175.3 169.0,176.0 169.6,175.9 170.2,175.1 171.0,175.0 171.4,175.5 172.0,175.3 172.5,176.0 173.2,137.0 173.5,120.0 173.8,106.9 174.5,77.0 175.0,78.7 175.5,80.0 176.3,77.5 176.9,120.0 177.5,174.6 178.0,174.8 178.7,176.5 179.2,172.2 179.8,166.2 180.6,159.7 181.0,163.1 181.6,167.2 182.2,172.4 182.5,174.6 182.8,174.4 183.4,175.9 184.0,175.9 184.3,176.5 184.6,174.4 185.2,169.0 185.8,165.0 186.2,161.6 187.0,154.0 187.6,148.7 188.0,144.8 188.8,148.8 189.4,152.9 190.0,156.0 190.6,160.5 191.2,166.1 191.8,170.9 192.4,169.8 193.0,170.0 193.7,169.0 194.2,166.3 194.8,164.2 195.4,160.8 196.0,158.5 196.5,156.0 197.2,157.1 197.8,159.0 198.3,159.7 199.0,160.9 199.6,163.1 200.2,164.4 200.8,165.4 201.4,167.6 202.0,169.0 202.6,166.2 203.2,164.9 204.0,161.6 204.4,154.1 205.0,144.1 205.8,129.9 206.2,121.3 206.7,111.2 207.4,123.5 208.2,137.3 208.6,138.2 209.2,140.5 210.0,142.9 210.4,144.3 211.0,146.9 211.6,148.7 211.9,150.4 212.2,148.5 212.8,143.3 213.4,139.8 213.7,137.3 214.0,131.9 214.6,122.6 215.2,111.9 215.6,105.6 216.5,126.0 217.0,127.2 217.5,128.0 218.4,156.0 218.8,164.1 219.3,174.6 220.0,170.0 220.6,165.5 221.2,161.6 221.8,166.8 222.4,171.0 223.0,176.5 223.6,173.3 224.2,168.9 224.9,165.3 225.4,164.4 226.0,162.6 226.8,161.6 227.2,164.2 227.8,167.1 228.4,171.2 228.7,172.8 229.0,171.7 229.6,171.1 230.2,169.5 230.5,169.0 230.8,170.1 231.4,171.4 232.0,173.5 232.4,174.6 233.2,173.6 233.8,173.5 234.4,172.2 235.2,171.8 235.6,172.7 236.2,173.4 237.0,175.5 237.4,173.0 238.0,168.6 238.6,165.4 238.9,163.4 239.2,166.4 239.9,174.6 240.4,175.3 241.0,175.8 241.6,175.5 242.2,176.5 242.6,176.5 243.4,175.8 244.0,175.9 244.6,174.7 245.4,174.6 245.8,174.4 246.4,173.2 247.0,173.1 247.6,172.6 248.2,170.9 248.8,170.9 249.2,170.0 250.0,171.0 250.5,172.1 251.2,172.9 252.0,173.6 252.4,173.2 253.0,173.2 253.6,172.2 254.0,172.1 254.8,172.7 255.4,172.3 256.0,173.1 256.6,172.9 257.2,171.9 258.0,172.1 258.4,172.7 259.0,172.9 259.6,174.0 260.0,174.1 260.8,173.3 261.4,173.5 262.0,173.1 262.6,173.2 263.2,174.3 264.0,174.6 264.4,174.0 265.0,174.0 265.6,172.9 266.0,173.1 266.8,173.6 267.4,173.6 268.0,174.1 268.6,173.7 269.2,172.8 270.0,172.6 270.4,173.1 271.0,173.1 271.6,173.9 272.0,174.1 272.8,173.1 273.4,173.0 274.0,172.1 274.6,172.0 275.2,173.0 276.0,173.1 276.4,172.6 277.0,172.7 277.6,171.4 278.0,171.6 278.8,172.4 279.4,172.1 280.0,173.1 280.6,172.9 281.2,172.1 282.0,172.1 282.4,172.6 283.0,172.7 283.6,173.6 284.0,173.6 284.8,172.5 285.4,172.1 286.0,171.1 286.6,171.3 287.2,172.3 288.0,172.6 288.4,172.2 289.0,172.1 289.6,170.8 290.0,171.1 290.8,171.9 291.4,171.7 292.0,172.6 292.6,172.4 293.2,171.3 294.0,171.1 294.4,171.5 295.0,171.4 295.6,172.0 296.0,172.1 296.8,171.5 297.4,172.1 298.0,171.9 298.6,171.1 299.2,171.5 300.0,170.6 300.4,170.5 301.0,172.2 301.6,172.0 302.0,173.1 302.8,173.4 303.4,172.7 304.0,173.1 304.6,173.5 305.2,173.5 306.0,174.1 306.4,174.3 307.0,174.0 307.6,174.7 308.0,174.6 308.8,173.9 309.4,173.8 310.0,173.1 310.6,173.4 311.2,174.5 312.0,175.1 312.4,174.7 313.0,174.9 313.6,173.8 314.0,174.1 314.8,174.9 315.4,174.9 316.0,175.5 316.6,175.1 317.2,174.1 318.0,174.1 318.4,174.7 319.0,174.5 319.6,175.9 320.0,176.1 320.8,175.2 321.4,175.5 322.0,175.1 322.6,175.1 323.2,175.6 324.0,175.5 324.4,174.8 325.0,175.0 325.6,174.0 326.0,174.1 326.8,173.9 327.4,173.2 328.0,173.1 328.6,172.6 329.2,171.6 330.0,171.1 330.4,171.6 331.0,171.5 331.6,172.8 332.0,173.1 332.8,172.3 333.4,172.5 334.0,172.1 334.6,171.5 335.2,171.6 336.0,171.1 336.4,171.3 337.0,172.4 337.6,172.2 338.0,173.1 338.8,170.4 339.4,167.3 340.0,165.7 340.6,169.3 341.0,171.1 341.8,171.8 342.4,173.4 343.0,173.9 343.6,172.9 344.2,173.1 345.0,172.1 345.4,172.1 346.0,172.9 346.6,172.4 347.0,173.1 347.8,173.6 348.4,173.7 349.0,174.1 349.6,174.0 350.2,173.1 351.0,173.1 351.4,173.6 352.0,173.5 352.6,174.6 353.0,174.6 353.8,174.6 354.4,175.0 355.0,175.1 355.6,172.7 356.0,171.6 357.0,173.1 357.4,173.1 358.0,172.2 358.6,172.4 359.0,172.1 359.8,172.4 360.4,173.9 361.0,174.1 361.6,173.3 362.2,173.7 363.0,173.1 363.4,173.1 364.0,173.7 364.6,173.5 365.0,174.1 365.8,174.0 366.4,173.1 367.0,173.1 367.6,173.9 368.2,173.4 369.0,174.6 369.4,174.6 370.0,173.5 370.6,173.7 371.0,173.1 371.8,173.2 372.4,174.0 373.0,174.1 373.6,173.6 374.2,173.8 375.0,173.1 375.4,173.1 376.0,173.9 376.6,173.4 377.0,174.1 377.8,168.6 378.6,162.8 379.0,164.4 379.8,168.0 380.2,170.3 381.0,174.1 381.4,173.2 382.0,172.8 382.6,171.2 383.0,171.1 383.8,172.0 384.4,172.3 385.0,173.1 385.6,173.6 386.2,173.2 387.0,174.1 387.4,174.1 388.0,173.5 388.6,173.5 389.0,173.1 389.8,173.1 390.4,174.1 391.0,174.1 391.6,173.5 392.2,173.7 393.0,173.1 393.4,172.4 394.0,172.4 394.6,171.2 395.0,171.1 396.0,170.0 396.4,171.1 397.0,172.1 397.6,172.0 398.2,172.9 399.0,173.1 399.4,172.7 400.0,172.9 400.6,172.0 401.0,172.1 401.8,172.7 402.4,172.5 403.0,173.1 403.6,173.1 404.2,171.8 405.0,171.9 405.4,172.4 406.0,171.9 406.6,173.0 407.0,173.1 407.8,172.1 408.4,172.7 409.0,172.1 409.6,171.9 410.2,173.0 411.0,173.1 411.4,172.3 412.0,171.7 412.6,170.5 413.0,170.1 413.8,171.2 414.4,171.1 415.0,172.1 415.6,171.9 416.2,171.1 417.0,171.1 417.4,171.8 418.0,171.9 418.6,172.9 419.0,173.1 419.8,172.1 420.4,171.9 421.0,171.1 421.6,171.4 422.2,172.5 423.0,173.1 423.4,172.3 424.0,172.4 424.6,170.9 425.0,171.1 425.8,170.0 426.4,168.3 427.0,168.0 427.6,167.4 428.2,166.2 428.6,166.0 429.4,168.5 430.0,170.0 430.6,170.4 431.2,171.5 432.0,172.1 432.4,171.8 433.0,172.9 433.6,172.3 434.0,173.1 434.8,172.9 435.4,172.1 436.0,172.1 436.6,171.6 437.2,170.4 438.0,170.0 438.4,170.8 439.0,171.4 439.6,172.6 440.0,173.1 440.8,172.2 441.4,172.7 442.0,172.1 442.6,170.5 443.2,169.8 443.8,167.9 444.5,167.0 445.0,168.2 445.6,169.0 446.0,170.1 446.8,171.0 447.4,171.2 448.0,172.1 448.6,171.1 449.2,169.4 450.0,168.0 450.4,167.2 451.0,165.3 451.6,164.4 452.2,162.8 452.8,165.0 453.5,168.0 454.0,169.2 454.6,169.9 455.0,171.1 455.8,172.3 456.4,172.4 457.0,173.1 457.6,173.8 458.2,173.3 459.0,174.1 459.4,174.4 460.0,174.3 460.6,175.0 461.0,175.1 461.8,173.9 462.5,173.1 463.0,170.0 463.6,165.1 464.0,162.8 465.0,170.0 465.4,167.2 466.0,161.8 466.8,155.7 467.2,166.0 467.5,173.1 467.8,173.0 468.4,174.8 469.0,175.5 469.6,175.0 470.2,175.4 471.0,175.1 471.4,174.5 472.0,175.1 472.6,174.2 473.0,174.6 473.8,174.9 474.4,174.8 475.0,175.1 475.6,174.9 476.2,174.3 477.0,174.1 477.4,174.5 478.0,174.3 478.6,175.1 479.0,175.1 479.8,174.1 480.4,174.5 481.0,174.1 481.6,172.8 482.2,172.6 483.0,171.1 483.4,169.7 484.0,168.0 484.6,172.0 485.0,174.1 485.8,171.9 486.4,171.1 486.8,170.0 487.6,172.8 488.0,175.1 488.8,171.6 489.5,168.0 490.0,169.9 490.6,173.5 491.0,175.1 491.8,171.5 492.5,169.0 493.0,171.3 493.6,173.3 494.0,175.5 494.8,171.8 495.5,168.0 496.0,169.8 496.6,172.6 497.0,174.1 497.8,171.6 498.6,170.0 499.0,171.0 499.6,172.0 500.0,173.1 500.8,174.2 501.4,173.9 502.0,175.1 502.6,174.8 503.2,173.5 504.0,173.1 504.4,173.8 505.0,173.8 505.6,174.8 506.0,175.1 506.8,173.8 507.4,173.9 508.0,173.1 508.6,173.0 509.2,173.9 510.0,174.1 510.4,173.5 511.0,173.7 511.6,173.1 512.0,173.1 512.8,174.0 513.4,173.8 514.0,174.9 514.6,174.7 515.2,174.1 516.0,174.1 516.4,174.4 517.0,174.3 517.6,175.0 518.0,174.9 518.8,174.0 519.4,174.0 520.0,173.1 520.5,173.1" fill="none" stroke="#0000ff" stroke-width="1.25" stroke-linejoin="round"/>
<rect x="40.30" y="20.50" width="503.50" height="164.30" fill="none" stroke="#7a7a7a" stroke-width="1.3"/>
<rect x="454.4" y="25.6" width="85.0" height="42.8" rx="2" fill="#fff" fill-opacity="0.85" stroke="#d8d8d8" stroke-width="1"/>
<line x1="457.6" y1="32.4" x2="476.6" y2="32.4" stroke="#ff3030" stroke-width="1.3"/>
<text x="484.4" y="36.60" font-size="10.2" font-weight="bold" letter-spacing="0.3">Reference</text>
<line x1="457.6" y1="46.2" x2="476.6" y2="46.2" stroke="#444" stroke-width="1.3"/>
<text x="484.4" y="50.40" font-size="10.2" font-weight="bold">FEC01</text>
<line x1="457.6" y1="59.8" x2="476.6" y2="59.8" stroke="#3030ff" stroke-width="1.3"/>
<text x="484.4" y="64.00" font-size="10.2" font-weight="bold">FEC02</text>
<text x="304.97" y="208.0" text-anchor="middle" font-size="15.2" font-weight="bold" letter-spacing="0.15">PM 10</text>
<line x1="38.30" y1="375.50" x2="40.90" y2="375.50" stroke="#7a7a7a" stroke-width="1"/>
<text x="35.70" y="379.60" text-anchor="end" font-size="10.0" font-weight="bold" stroke="#000" stroke-width="0.25">0</text>
<line x1="38.30" y1="348.20" x2="40.90" y2="348.20" stroke="#7a7a7a" stroke-width="1"/>
<text x="35.70" y="352.30" text-anchor="end" font-size="10.0" font-weight="bold" stroke="#000" stroke-width="0.25">5</text>
<line x1="38.30" y1="320.90" x2="40.90" y2="320.90" stroke="#7a7a7a" stroke-width="1"/>
<text x="35.70" y="325.00" text-anchor="end" font-size="10.0" font-weight="bold" stroke="#000" stroke-width="0.25">10</text>
<line x1="38.30" y1="293.60" x2="40.90" y2="293.60" stroke="#7a7a7a" stroke-width="1"/>
<text x="35.70" y="297.70" text-anchor="end" font-size="10.0" font-weight="bold" stroke="#000" stroke-width="0.25">15</text>
<line x1="38.30" y1="266.30" x2="40.90" y2="266.30" stroke="#7a7a7a" stroke-width="1"/>
<text x="35.70" y="270.40" text-anchor="end" font-size="10.0" font-weight="bold" stroke="#000" stroke-width="0.25">20</text>
<line x1="38.30" y1="239.00" x2="40.90" y2="239.00" stroke="#7a7a7a" stroke-width="1"/>
<text x="35.70" y="243.10" text-anchor="end" font-size="10.0" font-weight="bold" stroke="#000" stroke-width="0.25">25</text>
<line x1="83.90" y1="377.30" x2="83.90" y2="379.90" stroke="#7a7a7a" stroke-width="1"/>
<line x1="161.66" y1="377.30" x2="161.66" y2="379.90" stroke="#7a7a7a" stroke-width="1"/>
<line x1="216.09" y1="377.30" x2="216.09" y2="379.90" stroke="#7a7a7a" stroke-width="1"/>
<line x1="270.52" y1="377.30" x2="270.52" y2="379.90" stroke="#7a7a7a" stroke-width="1"/>
<line x1="324.96" y1="377.30" x2="324.96" y2="379.90" stroke="#7a7a7a" stroke-width="1"/>
<line x1="394.94" y1="377.30" x2="394.94" y2="379.90" stroke="#7a7a7a" stroke-width="1"/>
<line x1="449.37" y1="377.30" x2="449.37" y2="379.90" stroke="#7a7a7a" stroke-width="1"/>
<line x1="503.80" y1="377.30" x2="503.80" y2="379.90" stroke="#7a7a7a" stroke-width="1"/>
<text x="16.0" y="295.7" transform="rotate(-90 16.0 295.7)" text-anchor="middle" dominant-baseline="central" font-size="10.7" fill="#222">Concentration (µg/m3)</text>
<polyline points="63.6,354.7 63.9,355.7 64.5,364.0 65.1,350.2 65.7,330.5 66.4,314.6 66.9,334.9 67.3,351.0 68.3,366.8 68.7,363.7 69.3,366.2 69.6,364.0 69.9,356.9 70.5,352.4 71.1,344.4 71.7,347.5 72.3,355.7 72.6,356.6 72.9,349.6 73.5,344.1 74.1,331.5 74.4,328.6 74.7,333.5 75.3,338.3 75.7,347.2 76.5,352.4 77.1,352.8 77.6,356.6 78.3,354.5 78.9,349.5 79.5,349.1 80.1,351.4 80.7,350.8 81.3,354.7 81.9,349.2 82.5,339.0 83.2,332.3 83.7,331.7 84.3,324.7 84.9,326.0 85.5,320.1 86.0,320.2 86.7,331.8 87.5,343.5 87.9,347.0 88.5,355.5 88.8,356.6 89.1,352.8 89.7,349.9 90.3,341.7 90.6,341.6 91.5,338.8 92.1,333.5 92.5,332.3 93.3,313.0 93.8,298.7 94.5,317.0 95.3,341.6 95.7,341.2 96.3,338.1 96.9,338.0 97.2,336.0 97.5,328.4 98.1,318.6 98.7,306.2 99.3,313.2 100.0,323.0 100.5,303.3 101.1,278.8 101.6,260.0 101.9,220.0 102.3,260.0 102.9,300.2 103.7,351.0 104.1,341.0 104.7,332.8 105.0,325.7 105.3,326.0 105.9,329.8 106.5,330.8 107.0,333.7 107.7,323.4 108.3,312.6 109.0,302.9 109.5,311.2 110.1,318.0 110.6,325.7 111.3,328.4 111.9,329.7 112.5,329.2 113.1,334.1 113.9,335.6 114.3,330.2 114.9,326.8 115.5,318.1 116.1,315.4 116.5,309.8 117.3,322.0 117.9,333.7 118.5,337.1 119.1,337.9 119.9,343.6 120.3,345.7 120.9,344.1 121.5,348.9 121.9,349.5 122.7,341.0 123.3,339.8 123.8,335.6 124.5,326.0 125.1,321.6 125.8,311.8 126.3,316.4 126.9,327.1 127.2,329.7 127.5,316.0 128.1,294.0 128.8,264.3 129.4,270.0 129.9,276.8 130.5,290.1 130.8,294.0 131.1,292.8 131.7,293.0 132.3,289.6 132.8,290.8 133.5,297.5 134.1,299.1 134.8,305.9 135.3,309.5 135.9,309.7 136.7,315.8 137.1,317.2 137.7,315.0 138.3,320.6 138.7,319.8 139.5,315.7 140.1,316.0 140.7,313.8 141.3,316.9 141.9,324.8 142.7,329.7 143.1,322.7 143.7,316.2 144.3,306.3 144.7,301.9 145.2,279.3 145.5,282.6 146.1,283.1 146.7,289.8 147.3,290.9 147.9,298.4 148.7,301.9 149.2,287.5 149.7,286.3 150.5,292.0 150.9,295.1 151.5,294.3 152.1,299.9 152.5,300.0 153.3,281.0 154.0,269.5 154.5,276.2 155.1,278.4 155.5,285.0 156.3,282.6 156.9,276.9 157.5,276.0 158.1,283.1 158.7,285.1 159.0,290.0 159.3,292.6 159.9,292.5 160.5,296.6 161.1,297.3 161.9,301.9 162.3,308.6 162.9,313.8 163.5,324.8 163.9,329.7 164.7,338.7 165.5,349.5 165.9,355.5 166.5,359.0 166.9,363.4 167.7,362.6 168.3,356.7 168.8,357.5 169.5,359.3 170.1,355.7 170.8,359.4 171.3,353.8 171.9,342.9 172.5,336.2 172.8,329.7 173.1,325.3 173.7,322.6 174.3,312.3 174.8,309.8 175.5,309.0 176.1,306.6 176.8,305.9 177.3,305.2 177.9,301.2 178.5,303.9 178.8,301.9 179.1,299.1 179.7,297.7 180.3,292.8 180.8,292.0 181.5,298.7 182.1,299.0 182.7,305.9 183.3,297.1 183.9,281.5 184.7,269.5 185.1,276.2 185.7,280.0 186.3,290.9 186.7,296.0 187.5,300.9 188.1,307.3 188.7,309.8 189.3,302.4 189.9,299.9 190.7,292.0 191.1,292.0 191.7,295.0 192.5,296.0 192.7,305.9 193.5,299.4 194.1,298.3 194.6,294.0 195.0,292.9 195.3,293.0 195.9,298.9 196.5,302.0 197.1,306.8 197.7,313.9 198.3,318.0 198.7,323.0 199.5,321.1 200.1,317.3 200.6,317.4 201.3,297.8 202.1,274.3 202.5,284.4 203.1,307.2 203.7,323.5 204.3,345.4 204.9,348.9 205.3,349.1 206.1,332.1 206.7,322.2 207.1,313.7 207.9,309.0 208.5,307.6 209.0,304.3 209.7,280.1 210.3,262.1 210.9,277.8 211.5,290.8 212.1,308.8 212.7,323.0 213.3,319.5 213.9,318.1 214.6,313.7 215.1,308.1 215.7,305.5 216.5,298.7 216.9,288.0 217.5,279.7 217.8,273.3 218.1,276.7 218.7,286.2 219.3,291.0 219.9,303.0 220.2,306.2 220.5,304.7 221.1,306.1 221.7,301.0 222.1,302.5 223.0,323.0 223.5,329.8 224.1,332.7 224.9,341.6 225.3,341.8 225.9,337.8 226.7,336.0 227.1,335.9 227.7,331.6 228.3,334.0 228.6,332.3 228.9,328.6 229.5,329.5 230.1,323.6 230.4,324.9 231.3,321.9 231.9,317.0 232.3,317.4 233.1,316.0 233.7,312.9 234.2,312.7 234.9,326.9 235.5,334.2 236.0,345.4 236.7,351.5 237.3,352.9 237.9,358.4 238.5,362.4 239.1,361.0 239.7,367.6 240.0,367.8 240.3,364.8 240.9,363.7 241.5,355.9 241.9,356.6 242.7,358.9 243.3,356.3 243.7,358.4 244.5,352.4 245.1,345.3 245.6,341.6 246.3,339.6 246.9,334.2 247.5,332.3 248.1,326.3 248.7,318.8 249.3,313.8 249.7,309.0 250.5,332.8 251.2,356.6 251.7,355.1 252.3,350.0 253.1,347.2 253.5,346.9 254.1,341.7 254.9,341.6 255.3,342.8 255.9,342.7 256.5,345.9 256.8,345.4 257.1,344.7 257.7,353.4 258.3,353.9 258.7,358.4 259.5,354.7 260.1,348.5 260.5,349.1 261.3,334.8 261.8,322.1 262.5,330.6 263.3,347.2 263.7,342.9 264.3,331.5 264.9,325.4 265.6,314.6 266.1,321.8 266.7,337.0 267.1,341.6 267.9,334.8 268.5,334.0 268.9,330.4 269.7,333.8 270.3,339.8 270.8,341.6 271.5,336.2 272.1,335.8 272.6,332.3 273.3,333.9 273.9,340.2 274.5,341.6 275.1,337.6 275.7,336.4 276.4,332.3 276.9,329.9 277.5,331.7 278.2,328.6 278.7,328.2 279.3,332.2 280.1,332.3 280.5,331.8 281.1,339.8 281.7,339.3 282.0,343.5 282.3,346.7 282.9,351.0 283.5,337.2 284.1,328.0 284.4,320.2 284.7,325.0 285.0,332.3 285.3,336.8 285.9,339.5 286.5,350.5 286.9,352.8 287.7,353.1 288.3,356.2 288.7,356.6 289.5,349.8 290.1,346.4 290.6,341.6 291.3,326.3 291.9,317.4 292.5,302.6 292.8,298.7 293.1,306.9 293.7,319.2 294.3,337.9 294.9,347.4 295.3,351.0 296.1,329.3 296.6,319.3 297.3,334.2 298.1,347.2 298.5,351.0 299.0,358.4 299.7,350.1 300.3,341.6 300.9,333.3 301.5,328.1 301.8,323.0 302.1,315.6 302.7,309.7 303.3,298.1 303.7,295.0 304.5,316.4 305.1,332.3 305.7,336.2 306.3,344.6 307.0,351.0 307.5,350.1 308.1,356.2 308.9,358.4 309.3,353.3 309.9,351.1 310.7,343.5 311.1,344.8 311.7,350.8 312.3,353.6 312.6,356.6 312.9,357.5 313.5,356.4 314.1,360.9 314.5,360.3 315.3,360.1 315.9,364.5 316.7,365.9 317.1,361.4 317.7,362.4 318.3,357.9 318.6,358.4 318.9,357.7 319.5,352.8 320.1,352.6 320.4,349.1 321.3,351.9 321.9,358.3 322.3,360.3 323.1,357.7 323.7,359.0 324.2,356.6 324.9,352.2 325.5,352.0 326.0,349.1 326.7,349.7 327.3,353.6 327.9,354.7 328.5,355.6 329.1,361.4 329.8,364.0 330.0,363.4 330.3,349.5 331.0,323.7 331.5,329.9 332.1,334.5 332.4,339.6 332.7,338.0 333.3,330.2 334.0,325.7 334.5,333.9 335.1,337.0 335.6,345.6 336.3,341.5 336.9,335.6 337.5,326.2 338.3,315.8 338.7,322.7 339.3,330.6 339.9,343.6 340.5,341.4 341.1,336.7 341.5,335.6 342.3,322.6 342.9,310.8 343.5,323.0 344.3,341.6 344.7,343.9 345.3,341.7 345.9,345.6 346.5,344.0 347.1,339.8 347.9,339.6 348.3,337.4 348.9,331.7 349.4,329.7 350.1,329.7 350.8,326.7 351.3,330.1 351.9,341.9 352.2,345.6 352.5,344.5 353.1,350.7 353.8,353.5 354.3,347.6 354.9,347.3 355.4,343.6 356.1,334.4 356.8,329.7 357.3,312.7 357.8,296.0 358.5,304.8 359.1,317.2 359.4,319.8 359.7,326.9 360.3,349.2 360.8,361.4 361.5,351.0 362.1,345.6 362.7,340.9 363.3,331.9 363.7,329.7 364.5,328.6 365.3,324.7 365.7,330.0 366.3,345.0 366.7,351.5 367.5,354.2 368.1,360.4 368.7,355.7 369.3,345.6 369.7,343.6 370.5,347.6 371.1,345.4 371.7,349.5 372.3,340.9 372.9,328.5 373.3,325.7 374.1,341.0 374.6,349.5 375.0,365.4 375.3,359.8 375.9,358.0 376.6,349.5 377.1,340.1 377.7,336.8 378.3,325.0 378.6,323.7 378.9,329.9 379.5,337.0 380.0,345.6 380.7,352.0 381.3,352.2 381.9,359.4 382.5,357.5 383.1,352.6 383.9,349.5 384.3,348.0 384.9,339.0 385.5,337.6 385.9,333.7 386.7,340.6 387.3,348.0 387.9,353.5 388.5,354.0 389.1,359.8 389.9,361.4 390.3,358.6 390.9,358.9 391.5,354.3 391.9,353.5 392.7,350.8 393.3,345.9 393.8,345.6 394.5,345.0 395.1,339.9 395.7,341.2 396.4,337.6 396.9,340.4 397.5,348.1 398.1,350.8 398.4,355.5 398.7,356.1 399.3,355.3 399.9,357.8 400.4,357.5 401.1,354.1 401.7,355.9 402.3,353.1 402.8,353.5 403.5,356.0 404.1,352.6 404.8,355.5 405.3,357.5 405.9,355.3 406.7,359.4 407.1,357.7 407.7,348.3 408.3,346.6 408.7,341.6 409.5,335.7 410.3,333.7 410.7,330.7 411.3,323.3 412.1,317.8 412.5,326.5 413.1,336.4 413.7,349.5 414.3,352.2 414.9,350.4 415.7,355.5 416.1,354.0 416.7,349.5 417.3,348.2 417.7,345.6 418.5,335.3 419.1,330.1 419.6,323.7 420.0,321.7 420.3,323.4 420.9,336.3 421.6,345.6 422.1,349.3 422.7,356.2 423.0,357.5 423.3,351.9 423.9,345.3 424.4,337.6 425.1,339.3 425.7,347.7 426.0,347.5 426.3,343.2 426.9,341.5 427.5,333.4 427.9,331.7 428.7,341.6 429.5,351.5 429.9,350.7 430.5,355.0 431.1,352.2 431.5,355.5 432.3,352.9 432.9,345.6 433.5,345.6 434.1,347.6 434.7,345.7 435.5,349.5 435.9,353.6 436.5,352.8 437.1,360.9 437.5,361.4 438.3,352.9 438.9,352.2 439.4,347.5 440.1,344.7 440.7,346.3 441.4,343.6 441.9,345.5 442.5,350.7 443.1,352.1 443.4,355.5 443.7,357.6 444.3,359.3 444.9,364.9 445.4,366.4 446.1,354.9 446.7,347.9 447.4,337.6 447.9,332.2 448.5,333.0 448.8,329.7 449.1,325.1 449.7,321.3 450.3,312.8 450.8,308.8 451.5,322.7 452.1,333.7 452.7,340.3 453.3,350.8 453.7,355.5 454.5,349.7 455.1,350.2 455.7,345.6 456.3,336.8 456.9,333.7 457.3,327.7 458.1,337.5 458.7,349.5 459.3,354.3 459.9,355.6 460.7,361.4 461.1,359.9 461.7,353.7 462.3,354.8 462.7,351.5 463.5,344.3 464.1,344.6 464.6,339.6 465.0,355.3 465.3,352.8 465.9,356.3 466.5,354.3 467.0,355.3 467.7,364.9 468.0,367.2 468.3,363.1 468.9,365.2 469.5,360.5 470.0,359.3 470.7,361.1 471.3,360.3 471.9,363.3 472.5,363.2 473.1,357.1 473.9,357.3 474.3,360.0 474.9,359.5 475.5,362.7 475.9,363.3 476.7,359.2 477.3,361.4 477.9,359.3 478.5,359.2 479.1,363.5 479.9,363.3 480.3,361.3 480.9,361.2 481.5,355.6 481.8,357.3 482.1,359.2 482.7,356.3 483.3,361.0 483.8,361.3 484.5,357.3 485.1,359.2 485.8,355.3 486.3,354.4 486.9,356.3 487.5,352.4 487.8,355.3 488.1,356.5 488.7,354.7 489.3,359.8 489.8,359.3 490.5,359.6 491.1,363.8 491.7,363.3 492.3,361.9 492.9,366.1 493.7,367.2 494.1,362.3 494.7,363.9 495.3,357.6 495.7,357.3 496.5,360.1 497.1,359.1 497.7,363.3 498.3,363.2 498.9,358.4 499.7,359.3 500.1,361.1 500.7,360.7 501.3,365.7 501.6,365.2 501.9,362.4 502.5,364.1 503.1,360.9 503.6,361.3 504.3,357.5 504.9,350.6 505.6,347.4 506.1,350.2 506.7,346.8 507.3,351.1 507.6,351.4 507.9,348.7 508.5,350.0 509.1,345.7 509.6,347.4 510.3,351.5 510.9,350.0 511.5,355.3 512.1,359.3 512.7,357.2 513.5,363.3 513.9,365.0 514.5,365.5 515.1,369.5 515.5,369.2 516.3,366.7 516.9,369.3 517.5,367.2 518.1,364.9 518.7,366.9 519.5,365.2" fill="none" stroke="#ff0000" stroke-width="1.25" stroke-linejoin="round"/>
<polyline points="63.6,350.0 63.9,347.6 64.5,355.8 65.1,350.9 65.5,356.6 66.3,338.0 66.8,323.0 67.5,336.1 68.3,354.7 68.7,358.8 69.3,353.2 70.1,358.4 70.5,359.9 71.1,351.1 71.7,356.8 72.0,352.8 72.3,348.5 72.9,348.5 73.5,338.7 74.1,341.2 74.4,337.0 74.7,334.8 75.3,345.4 75.7,347.2 76.5,340.4 77.1,345.1 77.6,343.5 78.3,338.5 78.9,343.8 79.5,341.6 80.1,343.2 80.8,347.2 81.3,341.3 81.9,328.2 82.3,323.9 83.1,335.7 83.7,339.4 84.1,347.2 84.9,342.0 85.5,334.4 86.0,332.3 86.7,340.2 87.3,340.6 87.9,351.0 88.5,349.2 89.1,344.2 89.7,343.5 90.3,338.5 90.9,326.6 91.2,328.6 91.5,331.8 92.1,327.6 92.7,338.0 93.4,337.9 93.9,337.3 94.5,345.8 95.3,349.1 95.7,342.8 96.3,341.5 96.9,331.1 97.2,332.3 97.5,336.8 98.1,332.7 98.7,341.0 99.0,339.8 99.3,329.0 99.9,323.2 100.5,302.6 101.3,288.4 101.7,302.3 102.3,316.5 102.8,332.3 103.5,338.2 104.1,335.4 104.6,343.5 105.0,337.6 105.3,340.6 105.9,337.1 106.5,344.9 107.0,345.6 107.7,335.5 108.3,334.9 109.0,327.7 109.5,326.3 110.1,337.3 110.7,336.9 111.0,339.6 111.3,340.9 111.9,335.3 112.5,338.1 112.9,333.7 113.7,336.3 114.3,342.7 114.9,345.6 115.5,339.4 116.1,345.4 116.9,341.6 117.3,341.6 117.9,346.4 118.5,341.6 118.9,347.5 119.7,351.0 120.3,347.4 120.9,353.5 121.5,352.3 122.1,345.6 122.9,345.6 123.3,345.9 123.9,341.1 124.5,342.3 124.8,339.6 125.1,337.0 125.7,344.4 126.3,340.5 126.8,345.6 127.5,339.2 128.1,327.8 128.8,323.7 129.3,328.0 129.9,325.2 130.5,334.7 130.8,335.6 131.1,329.3 131.7,331.0 132.3,323.0 132.8,323.7 133.5,328.8 134.1,327.2 134.8,333.7 135.3,334.5 135.9,325.6 136.7,327.7 137.1,331.1 137.7,330.3 138.3,342.4 138.7,343.6 139.5,339.0 140.1,340.6 140.7,335.6 141.3,329.2 141.9,333.7 142.7,329.7 143.1,326.3 143.7,334.7 144.3,333.0 144.7,337.6 145.5,335.6 146.1,327.2 146.7,329.7 147.3,331.7 147.9,328.7 148.7,331.7 149.1,332.3 149.7,322.6 150.0,323.7 150.3,327.9 150.9,326.7 151.5,336.7 152.0,339.6 152.7,336.8 153.3,345.6 153.9,341.4 154.5,349.1 155.0,347.5 155.7,331.5 156.3,328.3 156.9,317.8 157.5,309.5 158.1,313.6 158.7,303.8 159.5,303.9 159.9,309.7 160.5,307.3 161.1,320.7 161.5,321.7 162.3,323.0 162.9,327.7 163.5,332.2 164.1,332.0 164.9,339.6 165.3,343.8 165.9,344.6 166.5,353.0 166.9,353.5 167.7,346.9 168.3,349.4 168.8,345.6 169.5,343.7 170.1,351.5 170.8,353.5 171.3,347.2 171.9,347.8 172.5,338.1 172.8,339.6 173.1,338.9 173.7,324.5 174.3,320.9 174.8,313.8 175.5,308.7 176.1,312.8 176.8,309.8 177.3,311.5 177.9,322.0 178.5,323.2 178.8,327.7 179.1,329.8 179.7,323.1 180.3,326.2 180.8,323.7 181.5,331.9 182.1,345.6 182.7,337.2 183.3,324.3 183.7,319.8 184.5,312.3 185.1,299.0 185.7,292.0 186.3,298.3 186.9,297.0 187.7,307.9 188.1,312.5 188.7,311.0 189.3,321.9 189.7,321.7 190.5,320.2 191.1,329.1 191.7,329.7 192.3,322.0 192.9,320.4 193.7,313.8 194.1,309.4 194.7,314.6 195.0,313.7 195.3,311.5 195.9,317.5 196.5,314.3 197.1,322.5 197.8,323.0 198.3,319.4 198.9,320.8 199.7,315.5 200.1,312.3 200.7,312.9 201.5,308.1 202.1,306.0 202.5,308.3 203.1,320.3 203.4,321.1 203.7,318.3 204.3,325.0 204.9,323.1 205.3,326.7 206.1,321.8 206.7,310.5 207.1,311.8 207.9,309.5 208.5,300.5 209.0,302.5 209.9,302.2 210.3,310.0 210.9,319.3 211.5,322.1 212.1,330.6 212.7,332.3 213.3,326.8 213.9,327.1 214.6,323.0 215.1,319.5 215.7,321.4 216.5,317.4 216.9,318.1 217.5,324.2 218.3,326.7 218.7,323.9 219.3,334.3 219.9,335.1 220.2,339.8 220.5,340.0 221.1,334.4 221.7,336.9 222.1,332.3 222.9,335.1 223.5,342.1 223.9,343.5 224.7,338.1 225.3,340.1 225.8,337.9 226.5,337.6 227.1,344.2 227.6,345.4 228.3,339.5 228.9,341.3 229.5,337.9 230.1,331.2 230.7,336.3 231.4,332.3 231.9,330.4 232.5,337.9 233.2,339.8 233.7,340.7 234.3,346.2 235.1,349.1 235.5,346.9 236.1,352.6 236.7,351.9 237.0,354.7 237.3,357.5 237.9,351.4 238.5,354.2 238.8,352.8 239.1,347.8 239.7,352.8 240.0,351.0 240.3,348.3 240.9,355.7 241.5,352.2 241.9,356.6 242.7,355.6 243.3,349.6 243.7,352.8 244.5,352.0 245.1,343.9 245.6,347.2 246.3,347.0 246.9,338.0 247.5,337.9 248.1,342.1 248.7,335.1 249.3,341.6 249.9,345.0 250.5,343.9 251.2,349.1 251.7,350.6 252.3,340.9 253.1,343.5 253.5,346.0 254.1,344.6 254.9,349.1 255.3,351.3 255.9,345.7 256.5,347.0 256.8,345.4 257.1,344.7 257.7,350.3 258.3,348.3 258.7,352.8 259.5,352.9 260.1,349.4 260.5,351.0 261.3,355.8 261.9,350.5 262.4,354.7 263.1,354.4 263.7,348.4 264.3,349.1 264.9,350.5 265.5,341.6 266.1,343.5 266.7,347.1 267.3,345.3 268.0,349.1 268.5,350.6 269.1,344.3 269.9,345.4 270.3,349.8 270.9,346.8 271.7,351.0 272.1,352.0 272.7,343.5 273.3,348.5 273.6,345.4 273.9,341.9 274.5,354.1 275.1,350.3 275.4,356.6 276.3,353.1 276.9,344.1 277.3,347.2 278.1,346.8 278.7,340.4 279.2,341.6 279.9,345.9 280.5,345.7 281.0,349.1 281.7,349.6 282.3,345.9 282.9,347.2 283.5,349.6 284.1,345.1 284.8,351.0 285.0,337.9 285.3,340.6 285.9,341.1 286.5,349.1 286.9,349.1 287.7,345.8 288.3,348.9 288.7,345.4 289.5,345.8 290.1,349.9 290.6,349.1 291.3,343.1 291.9,342.0 292.5,337.9 293.1,335.8 293.7,343.6 294.3,343.5 294.9,342.0 295.5,348.5 296.2,349.1 296.7,344.4 297.3,345.5 298.1,341.6 298.5,338.2 299.1,338.3 299.9,332.3 300.3,329.7 300.9,337.5 301.5,335.3 301.8,339.8 302.1,341.1 302.7,335.1 303.3,337.9 303.7,336.0 304.5,337.5 305.1,346.2 305.5,347.2 306.3,346.5 306.9,354.1 307.4,352.8 308.1,348.4 308.7,354.3 309.3,351.0 309.9,345.2 310.5,350.7 311.1,347.2 311.7,347.6 312.3,354.9 313.0,354.7 313.5,351.9 314.1,358.6 314.9,356.6 315.3,354.2 315.9,356.8 316.7,352.8 317.1,349.9 317.7,357.7 318.3,351.7 318.6,356.6 318.9,358.4 319.5,350.3 320.1,355.1 320.4,351.0 321.3,349.3 321.9,356.3 322.3,356.6 323.1,349.6 323.7,355.1 324.2,352.8 324.9,349.3 325.5,351.6 326.0,349.1 326.7,345.1 327.3,352.6 327.9,351.0 328.5,348.6 329.1,354.6 329.8,354.7 330.0,347.5 330.3,345.3 330.9,354.0 331.5,349.5 332.0,355.5 332.7,352.3 333.3,341.8 334.0,341.6 334.5,345.0 335.1,344.6 335.7,351.1 336.0,349.5 336.3,347.4 336.9,348.2 337.5,341.8 337.9,345.6 338.7,346.8 339.3,342.9 339.9,343.6 340.5,346.7 341.1,345.3 341.9,349.5 342.3,350.7 342.9,344.6 343.5,349.3 343.9,345.6 344.7,346.0 345.3,350.5 345.9,349.5 346.5,344.7 347.1,349.3 347.9,347.5 348.3,343.3 348.9,351.7 349.5,345.4 349.8,349.5 350.1,352.8 350.7,347.2 351.3,357.2 351.8,355.5 352.5,351.9 353.1,355.5 353.8,353.5 354.3,350.3 354.9,351.8 355.5,344.1 355.8,347.5 356.1,348.6 356.7,337.6 357.3,339.3 357.8,333.7 358.5,332.5 359.1,339.6 359.8,341.6 360.3,343.4 360.9,349.0 361.7,353.5 362.1,348.1 362.7,354.4 363.3,348.4 363.7,349.5 364.5,354.7 365.1,351.8 365.7,355.5 366.3,356.0 366.9,349.9 367.7,351.5 368.1,355.2 368.7,349.1 369.3,353.7 369.7,353.5 370.5,348.9 371.1,357.9 371.7,355.5 372.3,348.4 372.9,355.1 373.7,349.5 374.1,348.2 374.7,350.4 375.0,349.5 375.3,348.2 375.9,353.3 376.5,350.5 377.0,353.5 377.7,349.4 378.3,340.5 379.0,339.6 379.5,345.3 380.1,342.3 380.7,349.5 381.0,349.5 381.3,345.3 381.9,353.9 382.5,349.1 382.9,353.5 383.7,348.6 384.5,341.6 384.9,331.6 385.5,326.9 385.9,319.8 386.7,332.7 387.3,349.5 387.9,353.9 388.5,347.8 388.9,353.5 389.7,355.2 390.3,350.9 390.9,351.5 391.5,354.7 392.1,350.3 392.9,353.5 393.3,353.8 393.9,348.6 394.5,353.9 394.8,351.5 395.1,347.3 395.7,355.0 396.3,351.8 396.8,353.5 397.5,356.3 398.1,352.9 398.8,355.5 399.3,356.5 399.9,353.0 400.5,355.0 400.8,353.5 401.1,350.1 401.7,354.6 402.3,346.6 402.8,351.5 403.5,351.8 404.1,347.0 404.8,349.5 405.3,350.0 405.9,344.1 406.7,347.5 407.1,348.7 407.7,340.6 408.3,345.3 408.7,341.6 409.5,339.6 410.1,346.7 410.7,345.6 411.3,341.6 411.9,345.8 412.7,343.6 413.1,341.9 413.7,348.5 414.3,345.3 414.7,349.5 415.5,349.8 416.1,345.1 416.7,347.5 417.3,348.0 417.9,343.5 418.7,345.6 419.1,349.5 419.7,347.0 420.0,349.5 420.3,351.9 420.9,346.2 421.5,353.1 422.0,353.5 422.7,347.8 423.3,353.5 424.0,349.5 424.5,348.6 425.1,351.6 425.7,345.8 426.0,351.5 426.3,354.8 426.9,350.2 427.5,356.8 427.9,355.5 428.7,353.2 429.3,357.1 429.9,353.5 430.5,351.4 431.1,358.4 431.9,358.5 432.3,352.7 432.9,358.5 433.5,351.2 433.9,355.5 434.7,355.4 435.3,349.0 435.9,353.5 436.5,355.7 437.1,353.6 437.9,355.5 438.3,357.8 438.9,351.4 439.5,355.9 439.8,353.5 440.1,350.0 440.7,353.5 441.3,346.7 441.8,351.5 442.5,355.0 443.1,348.8 443.8,355.5 444.3,355.1 444.9,348.8 445.5,354.4 445.8,351.5 446.1,347.5 446.7,351.6 447.3,345.8 447.8,349.5 448.5,350.7 449.1,346.0 449.8,347.5 450.3,349.3 450.9,347.2 451.7,349.5 452.1,352.2 452.7,346.1 453.3,355.7 453.7,353.5 454.5,350.1 455.1,356.2 455.7,355.5 456.3,353.7 456.9,359.2 457.7,357.5 458.1,356.4 458.7,363.1 459.3,360.5 459.7,363.4 460.5,362.4 461.1,356.3 461.7,357.5 462.3,357.0 462.9,352.7 463.7,353.5 464.1,356.1 464.7,351.9 465.0,355.3 465.3,356.9 465.9,353.8 466.5,356.6 467.1,353.7 467.7,359.9 468.3,354.4 469.0,357.3 469.5,359.3 470.1,352.0 470.9,353.4 471.3,355.2 471.9,352.4 472.5,355.7 472.9,355.3 473.7,352.9 474.3,355.9 474.9,353.4 475.5,348.7 476.1,357.7 476.9,355.3 477.3,353.5 477.9,357.7 478.5,351.1 478.9,354.4 479.7,356.9 480.3,350.3 480.8,353.4 481.5,356.6 482.1,351.9 482.8,355.3 483.3,356.8 483.9,351.6 484.5,356.5 484.8,353.4 485.1,350.9 485.7,354.2 486.3,346.8 486.8,349.4 487.5,351.8 488.1,344.3 488.8,347.4 489.3,350.0 489.9,346.1 490.7,353.4 491.1,356.6 491.7,353.1 492.3,356.0 492.7,355.3 493.5,349.6 494.1,355.5 494.7,353.4 495.3,350.4 495.9,355.1 496.7,355.3 497.1,349.8 497.7,356.4 498.3,350.4 498.7,353.4 499.5,357.0 500.1,353.4 500.6,355.3 501.3,357.9 501.9,352.9 502.6,353.4 503.1,355.2 503.7,347.9 504.3,354.5 504.6,353.4 504.9,349.8 505.5,354.2 506.1,349.0 506.6,351.4 507.3,353.9 507.9,349.2 508.6,353.4 509.1,357.0 509.7,353.3 510.5,355.3 510.9,357.1 511.5,354.0 512.1,359.8 512.5,357.3 513.3,356.3 513.9,359.1 514.5,358.3 515.1,352.6 515.7,360.4 516.5,357.3 516.9,352.7 517.5,360.0 518.1,354.0 518.7,357.4 519.5,356.3" fill="none" stroke="#000000" stroke-width="1.25" stroke-linejoin="round"/>
<polyline points="63.6,358.4 63.9,357.4 64.5,364.5 65.1,365.9 65.7,347.2 66.4,333.2 66.9,345.8 67.7,360.3 68.1,357.1 68.7,362.4 69.3,358.1 69.6,362.2 69.9,362.4 70.5,357.6 71.1,358.2 71.4,356.6 71.7,354.7 72.3,359.0 72.9,357.8 73.3,360.3 74.1,352.4 74.8,342.6 75.3,344.1 75.9,355.0 76.7,360.3 77.1,357.9 77.7,357.7 78.5,354.7 78.9,354.8 79.5,360.6 80.1,358.3 80.4,363.1 80.7,362.8 81.3,352.5 81.9,353.4 82.3,349.1 83.1,349.6 83.7,355.9 84.1,356.6 84.9,341.2 85.6,330.4 86.1,338.1 86.7,343.3 87.3,355.9 87.9,362.2 88.5,355.7 89.1,355.9 89.7,351.0 90.3,346.5 90.9,347.1 91.6,343.5 92.1,341.1 92.7,347.3 93.4,347.2 93.9,346.7 94.5,355.6 95.3,358.4 95.7,353.3 96.3,350.2 96.9,342.5 97.2,341.6 97.5,342.3 98.1,333.7 98.7,335.3 99.0,332.3 99.3,326.8 99.9,325.9 100.5,319.3 101.1,321.3 101.8,332.3 102.3,338.8 102.9,342.8 103.7,356.6 104.1,358.6 104.7,353.6 105.0,355.5 105.3,354.7 105.9,348.0 106.5,345.9 107.0,341.6 107.7,335.0 108.3,333.4 109.0,327.7 109.5,333.0 110.1,342.2 110.7,347.3 111.0,351.5 111.3,353.8 111.9,351.8 112.5,355.5 113.1,350.2 113.7,338.9 114.5,333.7 114.9,337.7 115.5,338.9 116.1,348.4 116.5,349.5 117.3,347.9 117.9,354.6 118.5,353.5 119.1,347.1 119.7,348.4 120.5,341.6 120.9,343.5 121.5,350.6 122.1,351.1 122.5,355.5 123.3,349.0 123.9,339.3 124.4,337.6 125.1,333.9 125.8,325.7 126.3,327.1 126.9,334.4 127.2,335.6 127.5,330.2 128.1,325.9 128.8,313.8 129.3,313.0 129.9,319.1 130.5,318.1 130.8,321.7 131.1,321.0 131.7,316.5 132.3,317.1 132.8,313.8 133.5,311.3 134.1,318.6 134.8,317.8 135.3,289.5 135.8,267.9 136.5,289.2 137.1,302.3 137.7,321.7 138.3,328.6 138.9,328.2 139.7,339.6 140.1,337.3 140.7,328.0 141.3,329.4 141.7,323.7 142.5,326.5 143.1,334.1 143.7,335.6 144.3,328.6 144.9,330.3 145.7,325.7 146.1,318.4 146.7,315.0 147.3,302.9 147.7,301.9 148.7,284.2 149.1,286.4 149.7,284.2 150.5,290.0 150.9,285.9 151.5,275.0 152.1,262.8 152.5,260.5 153.5,285.0 153.9,280.9 154.5,270.0 155.3,280.0 155.7,267.5 156.5,253.0 156.9,263.0 157.3,270.0 158.2,252.0 158.7,259.4 159.0,268.0 159.3,265.6 159.8,258.0 160.6,275.0 161.3,262.0 161.7,263.2 162.3,270.3 162.9,309.8 163.5,320.2 164.1,325.5 164.9,339.6 165.3,342.0 165.9,341.4 166.5,345.6 166.9,345.6 167.9,337.6 168.3,335.1 168.9,341.8 169.5,338.6 169.8,343.6 170.1,346.1 170.7,343.0 171.3,347.3 171.8,347.5 172.5,336.5 173.1,335.9 173.8,325.7 174.3,309.7 174.9,295.7 175.4,279.3 176.1,279.7 176.5,285.0 177.3,308.3 177.8,319.8 178.5,325.0 179.1,332.5 179.8,337.6 180.3,332.4 180.9,334.7 181.7,329.7 182.1,328.5 182.7,335.4 183.3,333.8 183.7,339.6 184.5,336.2 185.1,327.7 185.7,325.7 186.3,324.9 186.9,318.0 187.7,315.8 188.1,320.1 188.7,320.3 189.3,329.3 189.7,329.7 190.5,330.0 191.1,337.8 191.7,339.6 192.3,331.3 192.9,330.8 193.7,323.7 194.1,318.0 194.7,321.0 195.0,317.4 195.3,315.9 195.9,322.3 196.5,323.1 196.9,326.7 197.7,333.7 198.4,337.9 198.9,330.1 199.5,327.0 200.2,319.3 200.7,320.6 201.3,325.2 202.1,328.6 202.5,327.1 203.1,335.2 203.7,333.0 204.0,337.9 204.3,338.5 204.9,330.6 205.5,332.3 205.8,328.6 206.1,322.5 206.7,317.9 207.3,306.6 207.7,302.5 208.5,312.7 209.1,316.9 209.6,323.0 210.3,322.8 210.9,316.4 211.4,319.3 212.1,324.4 212.7,321.2 213.3,326.7 213.9,322.9 214.5,314.3 215.1,313.7 215.7,308.1 216.3,296.1 217.0,290.1 217.5,298.8 218.3,309.9 218.7,309.3 219.3,317.8 219.9,319.8 220.2,323.0 220.5,325.2 221.1,324.3 221.7,328.4 222.1,328.6 222.9,332.2 223.5,339.1 223.9,339.8 224.7,333.7 225.3,335.1 225.8,332.3 226.5,330.0 227.1,334.1 227.6,334.2 228.3,326.5 228.9,327.6 229.5,323.0 230.1,322.9 230.7,328.9 231.4,330.4 231.9,325.9 232.5,329.5 233.2,326.7 233.7,329.0 234.3,337.2 235.1,341.6 235.5,339.0 236.1,342.6 236.7,338.6 237.0,341.6 237.3,342.2 237.9,333.9 238.5,336.0 238.8,332.3 239.1,330.8 239.7,334.6 240.0,334.2 240.3,336.5 240.9,346.2 241.5,349.1 241.9,354.7 242.7,351.7 243.3,344.2 243.7,345.4 244.5,340.6 245.1,332.0 245.6,332.3 246.3,332.4 246.9,328.4 247.5,328.6 248.1,328.7 248.7,321.9 249.3,323.0 249.9,329.2 250.5,332.3 251.2,341.6 251.7,343.0 252.3,338.9 253.1,339.8 253.5,339.5 254.1,333.1 254.9,334.2 255.3,335.6 255.9,334.5 256.5,338.0 256.8,337.9 257.1,337.7 257.7,345.5 258.3,346.8 258.7,351.0 259.5,349.0 260.1,345.5 260.5,345.4 261.3,346.5 261.9,341.3 262.4,343.5 263.1,340.5 263.7,333.2 264.3,330.4 264.9,331.8 265.5,325.6 266.1,327.6 266.7,330.6 267.3,327.1 268.0,332.3 268.5,331.3 269.1,326.2 269.9,326.7 270.3,328.6 270.9,327.9 271.7,330.4 272.1,331.8 272.7,328.1 273.3,329.9 273.6,327.6 273.9,327.7 274.5,334.8 275.1,335.0 275.4,337.9 276.3,334.6 276.9,326.0 277.3,327.6 278.1,332.6 278.7,331.1 279.2,336.0 279.9,340.4 280.5,338.6 281.0,343.5 281.7,342.7 282.3,338.1 282.9,337.9 283.5,342.4 284.1,341.5 284.8,349.1 285.0,347.2 285.3,350.4 285.9,350.5 286.5,360.0 286.9,360.3 287.7,353.2 288.3,356.7 288.7,352.8 289.5,344.6 290.1,346.3 290.6,341.6 291.3,335.6 291.9,335.8 292.5,332.3 293.1,337.0 293.7,344.4 294.3,349.1 294.9,343.9 295.5,344.6 296.2,339.8 296.7,344.0 297.3,352.4 298.1,358.4 298.5,353.9 299.1,353.4 299.9,347.2 300.3,343.9 300.9,343.4 301.5,334.4 301.8,336.0 302.1,336.4 302.7,330.4 303.3,328.6 303.9,334.5 304.5,335.6 305.1,345.4 305.7,349.7 306.3,347.3 307.0,354.7 307.5,354.0 308.1,347.0 308.9,347.2 309.3,343.1 309.9,334.6 310.2,332.3 310.5,335.9 311.1,334.8 311.7,342.5 312.1,343.5 312.9,346.1 313.5,353.8 313.9,354.7 314.7,354.7 315.3,357.9 315.8,358.4 316.5,352.6 317.1,352.8 317.6,349.1 318.3,340.7 318.9,341.1 319.5,336.0 320.1,340.0 320.7,349.9 321.4,356.6 321.9,352.9 322.5,354.0 323.2,351.0 323.7,346.3 324.3,345.5 325.1,337.9 325.5,333.1 326.1,335.4 326.4,332.3 326.7,331.1 327.3,343.4 327.9,347.2 328.5,345.9 329.1,351.8 329.8,351.0 330.0,335.6 330.3,332.1 330.9,335.8 331.5,331.0 332.0,331.7 332.7,338.4 333.3,336.9 333.6,341.6 333.9,339.4 334.5,332.8 335.0,329.7 335.7,333.0 336.3,330.8 336.9,335.6 337.5,335.0 338.1,330.2 338.9,329.7 339.3,333.4 339.9,332.9 340.5,338.0 340.9,339.6 341.7,333.5 342.3,333.8 342.9,329.7 343.5,328.6 344.1,333.9 344.9,335.6 345.3,332.9 345.9,340.0 346.5,335.7 346.9,339.6 347.7,337.7 348.3,332.4 348.8,331.7 349.5,334.8 350.1,333.7 350.8,339.6 351.3,343.7 351.9,342.1 352.5,348.3 352.8,347.5 353.1,342.5 353.7,346.1 354.3,339.2 354.8,339.6 355.5,336.6 356.1,328.7 356.8,325.7 357.3,324.2 357.9,317.9 358.2,317.8 358.5,322.2 359.1,323.1 359.8,329.7 360.3,335.5 360.9,334.5 361.7,343.6 362.1,343.0 362.7,338.7 363.3,339.1 363.7,335.6 364.5,331.8 365.3,331.7 365.7,337.6 366.3,339.3 366.7,347.5 367.5,350.1 368.1,349.0 368.7,351.5 369.3,350.0 369.9,342.4 370.7,341.6 371.1,339.7 371.7,332.5 372.3,329.9 372.7,325.7 373.5,329.6 374.1,339.5 374.6,341.6 375.0,339.6 375.3,336.1 375.9,335.1 376.6,329.7 377.1,325.5 377.7,326.7 378.2,322.7 378.9,327.0 379.5,335.7 380.0,337.6 380.7,339.5 381.3,347.3 381.9,349.5 382.5,344.5 383.1,343.6 383.9,335.6 384.3,333.7 384.9,337.9 385.5,335.2 385.9,337.6 386.7,344.6 387.3,342.1 387.9,349.5 388.5,353.9 389.1,350.4 389.9,357.5 390.3,357.3 390.9,350.5 391.5,354.5 391.9,351.5 392.7,344.9 393.3,347.9 393.8,343.6 394.5,341.5 395.1,342.8 395.8,341.6 396.3,344.0 396.9,352.4 397.5,352.5 397.8,357.5 398.1,358.1 398.7,355.4 399.3,360.9 399.8,359.4 400.5,356.5 401.1,358.3 401.8,355.5 402.3,352.9 402.9,354.7 403.5,350.3 403.8,351.5 404.1,352.2 404.7,347.8 405.3,351.9 405.8,349.5 406.5,343.3 407.1,346.4 407.7,343.6 408.3,336.8 408.9,338.9 409.7,333.7 410.1,332.6 410.7,337.8 411.3,336.6 411.7,339.6 412.5,342.6 413.1,339.0 413.7,343.6 414.3,347.6 414.9,343.3 415.7,349.5 416.1,349.0 416.7,343.6 417.3,343.8 417.7,341.6 418.5,335.6 419.1,336.9 419.6,333.7 420.0,339.6 420.3,341.9 420.9,350.7 421.6,357.5 422.1,348.3 422.7,346.6 423.0,341.6 423.3,337.5 423.9,338.9 424.5,332.0 425.0,333.7 425.7,340.9 426.3,342.5 426.9,349.5 427.5,348.2 428.1,342.9 428.9,341.6 429.3,344.7 429.9,344.6 430.5,350.7 430.9,351.5 431.7,346.9 432.3,348.5 432.9,345.6 433.5,343.5 434.1,345.3 434.9,343.6 435.3,343.5 435.9,351.0 436.5,350.8 436.9,353.5 437.7,352.5 438.3,345.4 438.8,345.6 439.5,345.3 440.1,342.1 440.8,343.6 441.3,346.8 441.9,348.1 442.5,353.9 442.8,353.5 443.1,351.0 443.7,357.6 444.3,354.5 444.8,357.5 445.5,354.2 446.1,343.3 446.8,341.6 447.3,341.7 447.9,335.7 448.5,337.3 448.8,335.6 449.1,330.4 449.7,331.0 450.3,322.7 450.8,322.7 451.5,328.4 452.1,330.6 452.7,335.6 453.3,334.1 453.9,329.6 454.7,327.7 455.1,331.6 455.7,331.5 456.3,338.7 456.7,339.6 457.5,334.3 458.1,337.8 458.7,335.6 459.3,337.5 459.9,346.0 460.7,349.5 461.1,346.0 461.7,345.5 462.3,337.1 462.7,337.6 463.5,342.3 464.1,339.6 464.6,345.6 465.3,338.6 465.9,325.8 466.6,319.7 467.1,332.9 467.7,341.4 468.0,349.4 468.3,349.0 468.9,343.7 469.5,346.6 470.0,343.5 470.7,344.5 471.3,348.2 471.9,349.4 472.5,343.8 473.1,345.2 473.9,341.5 474.3,341.0 474.9,345.3 475.5,340.8 475.9,345.4 476.7,344.9 477.3,338.4 477.9,339.5 478.5,342.2 479.1,338.8 479.9,341.5 480.3,338.9 480.9,330.2 481.5,330.2 481.8,326.6 482.1,325.2 482.7,332.8 483.3,332.2 483.8,337.5 484.5,337.0 485.1,333.4 485.8,333.6 486.3,333.5 486.9,327.1 487.5,329.7 487.8,328.6 488.1,326.0 488.7,328.7 489.2,327.6 489.9,331.6 490.7,339.5 491.1,340.8 491.7,335.5 492.3,337.2 492.7,335.5 493.5,334.8 494.1,340.2 494.7,339.5 495.3,336.0 495.9,340.0 496.7,337.5 497.1,337.1 497.7,345.8 498.3,344.1 498.7,349.4 499.5,351.7 500.1,349.5 500.6,353.4 501.3,353.6 501.9,347.7 502.6,349.4 503.1,348.6 503.7,343.0 504.3,345.0 504.6,341.5 504.9,338.8 505.5,342.8 506.1,336.7 506.6,339.5 507.3,342.5 507.9,341.0 508.6,345.4 509.1,346.1 509.7,340.5 510.5,343.5 510.9,346.5 511.5,348.3 512.1,354.9 512.5,355.3 513.3,354.1 513.9,357.9 514.5,357.3 515.1,355.1 515.7,360.4 516.5,359.3 516.9,357.9 517.5,360.6 518.1,355.4 518.5,357.3 519.3,355.3 520.0,349.4" fill="none" stroke="#0000ff" stroke-width="1.25" stroke-linejoin="round"/>
<rect x="40.90" y="213.10" width="502.60" height="164.20" fill="none" stroke="#7a7a7a" stroke-width="1.3"/>
<rect x="455.6" y="217.6" width="83.8" height="43.4" rx="2" fill="#fff" fill-opacity="0.85" stroke="#d8d8d8" stroke-width="1"/>
<line x1="458.0" y1="224.6" x2="477.0" y2="224.6" stroke="#ff3030" stroke-width="1.3"/>
<text x="484.0" y="228.80" font-size="10.2" font-weight="bold" letter-spacing="0.3">Reference</text>
<line x1="458.0" y1="238.6" x2="477.0" y2="238.6" stroke="#444" stroke-width="1.3"/>
<text x="484.0" y="242.80" font-size="10.2" font-weight="bold">FEC01</text>
<line x1="458.0" y1="251.8" x2="477.0" y2="251.8" stroke="#3030ff" stroke-width="1.3"/>
<text x="484.0" y="256.00" font-size="10.2" font-weight="bold">FEC02</text>
<text x="88.90" y="389.8" transform="rotate(-27 88.90 389.8)" text-anchor="end" font-size="9.7" font-weight="bold" stroke="#000" stroke-width="0.5">22 March 2021</text>
<text x="166.66" y="389.8" transform="rotate(-27 166.66 389.8)" text-anchor="end" font-size="9.7" font-weight="bold" stroke="#000" stroke-width="0.5">1 April 2021</text>
<text x="221.09" y="389.8" transform="rotate(-27 221.09 389.8)" text-anchor="end" font-size="9.7" font-weight="bold" stroke="#000" stroke-width="0.5">8 April 2021</text>
<text x="275.52" y="389.8" transform="rotate(-27 275.52 389.8)" text-anchor="end" font-size="9.7" font-weight="bold" stroke="#000" stroke-width="0.5">15 April 2021</text>
<text x="329.96" y="389.8" transform="rotate(-27 329.96 389.8)" text-anchor="end" font-size="9.7" font-weight="bold" stroke="#000" stroke-width="0.5">22 April 2021</text>
<text x="399.94" y="389.8" transform="rotate(-27 399.94 389.8)" text-anchor="end" font-size="9.7" font-weight="bold" stroke="#000" stroke-width="0.5">1 May 2021</text>
<text x="454.37" y="389.8" transform="rotate(-27 454.37 389.8)" text-anchor="end" font-size="9.7" font-weight="bold" stroke="#000" stroke-width="0.5">8 May 2021</text>
<text x="508.80" y="389.8" transform="rotate(-27 508.80 389.8)" text-anchor="end" font-size="9.7" font-weight="bold" stroke="#000" stroke-width="0.5">15 May 2021</text></g></svg>
</body></html>
